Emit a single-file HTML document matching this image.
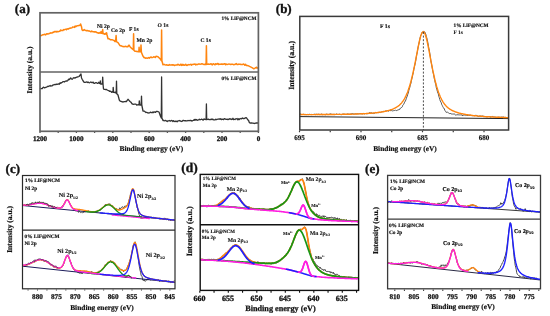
<!DOCTYPE html>
<html><head><meta charset="utf-8"><style>
html,body{margin:0;padding:0;background:#fff;width:550px;height:316px;overflow:hidden;}
body{position:relative;font-family:"Liberation Serif", serif;}
</style></head><body>
<svg width="550" height="316" viewBox="0 0 550 316" style="position:absolute;left:0;top:0;will-change:transform" text-rendering="geometricPrecision">
<g font-family='"Liberation Serif", serif' fill="#111">
<path d="M40.0,35.7 40.7,35.5 41.4,35.5 42.1,35.1 42.9,34.7 43.6,34.7 44.3,34.3 45.0,34.5 45.7,34.9 46.4,34.0 47.1,33.7 47.9,34.0 48.6,33.8 49.3,33.5 50.0,33.3 50.7,32.8 51.4,33.0 52.1,33.1 52.9,32.2 53.6,32.4 54.3,31.6 55.0,31.7 55.7,31.4 56.4,31.9 57.1,31.3 57.9,31.8 58.6,31.6 59.3,31.3 60.0,31.2 60.7,30.0 61.4,30.6 62.1,30.6 62.9,30.4 63.6,29.6 64.3,29.8 65.0,29.4 65.7,29.2 66.4,29.8 67.1,28.8 67.9,28.9 68.6,29.1 69.3,28.3 70.0,28.3 70.7,28.0 71.5,27.9 72.2,27.6 72.9,26.9 73.6,27.1 74.4,27.4 75.1,26.0 75.8,26.8 76.5,26.2 77.3,25.7 78.0,25.7 79.0,25.4 80.0,25.2 80.6,24.0 81.5,26.7 82.0,29.7 82.8,30.6 83.5,30.3 84.2,29.6 85.0,30.2 85.8,30.4 86.5,30.7 87.2,30.5 88.0,30.7 88.7,31.1 89.4,31.0 90.1,31.4 90.9,31.8 91.6,31.1 92.3,31.6 93.0,31.7 93.7,31.7 94.4,32.0 95.1,31.7 95.9,32.0 96.6,32.3 97.3,32.9 98.0,32.7 98.9,33.3 99.9,32.5 100.8,33.2 101.1,31.5 101.4,33.3 102.4,33.3 102.7,29.6 103.0,33.7 103.8,33.5 104.6,34.3 105.4,33.4 106.2,34.3 106.6,32.8 107.0,34.7 108.0,38.7 108.8,38.7 109.6,39.1 110.4,39.8 111.2,39.8 112.0,39.7 112.7,39.9 113.4,40.2 114.2,40.5 114.9,41.5 115.6,41.2 116.1,35.5 116.5,41.7 117.2,42.2 118.0,42.7 119.0,44.2 120.0,45.7 120.8,45.7 121.6,46.0 122.4,46.4 123.2,46.5 124.0,46.7 124.8,46.6 125.6,46.3 126.4,46.7 127.2,46.5 128.0,46.7 129.0,45.1 130.0,46.7 131.0,47.7 132.0,48.7 133.3,49.7 133.6,33.7 133.9,50.2 134.9,51.2 136.0,51.2 136.7,51.6 137.4,51.4 138.1,51.8 138.8,51.7 139.1,47.3 139.4,51.7 140.7,51.7 141.0,45.0 141.4,52.2 142.2,54.2 143.0,56.2 144.0,57.7 144.8,57.6 145.6,58.3 146.4,57.9 147.2,58.3 148.0,58.1 148.8,57.5 149.6,58.1 150.4,57.2 151.2,57.0 152.0,57.7 152.8,57.3 153.6,56.8 154.4,56.9 155.2,57.5 156.0,56.3 157.0,56.5 158.0,56.7 159.0,57.7 160.0,58.7 161.3,60.7 161.6,30.1 161.9,60.7 163.0,64.7 163.7,64.4 164.4,64.5 165.1,64.9 165.8,65.1 166.5,64.8 167.2,64.9 167.9,65.3 168.6,65.2 169.3,64.6 170.0,65.1 170.7,65.1 171.4,65.1 172.1,64.7 172.9,65.2 173.6,64.8 174.3,65.5 175.0,65.2 175.7,65.1 176.4,64.9 177.1,65.1 177.9,64.3 178.6,64.6 179.3,65.2 180.0,65.1 180.7,64.2 181.4,65.4 182.1,64.3 182.9,65.3 183.6,64.6 184.3,65.2 185.0,65.0 185.7,64.3 186.4,65.3 187.1,65.4 187.9,64.8 188.6,64.6 189.3,64.7 190.0,64.7 190.7,64.3 191.4,65.1 192.1,64.4 192.9,64.5 193.6,64.2 194.3,64.2 195.0,63.9 195.7,64.9 196.4,64.3 197.1,64.7 197.9,64.3 198.6,64.0 199.3,64.1 200.0,64.2 201.0,64.0 202.0,63.7 203.0,64.1 204.0,64.5 205.1,64.3 206.1,64.5 206.4,45.7 206.7,64.3 207.5,64.3 208.3,64.1 209.2,64.2 210.0,64.3 210.7,63.7 211.4,64.0 212.1,64.9 212.9,64.0 213.6,63.8 214.3,64.4 215.0,64.8 215.7,63.7 216.4,64.2 217.1,64.0 217.9,63.5 218.6,64.5 219.3,64.2 220.0,64.2 220.7,64.2 221.4,63.9 222.1,64.4 222.9,64.0 223.6,64.2 224.3,63.8 225.0,63.8 225.7,64.8 226.4,64.1 227.1,64.4 227.9,64.3 228.6,64.1 229.3,64.1 230.0,64.3 230.7,64.5 231.4,64.2 232.1,64.2 232.9,64.3 233.6,64.7 234.3,64.5 235.0,64.4 235.7,64.0 236.4,63.6 237.1,64.5 237.9,64.5 238.6,64.1 239.3,64.3 240.0,64.1 240.8,64.5 241.6,64.5 242.4,64.6 243.2,64.1 244.0,64.3 244.8,65.2 245.6,64.4 246.4,65.5 247.2,65.6 248.0,65.7 249.0,66.2 250.0,66.7 251.0,67.2 252.0,67.7 252.8,68.2 253.5,68.7 254.2,68.7 255.0,68.2 255.8,67.6 256.5,67.3 257.2,68.2 258.0,67.7" fill="none" stroke="#ff850f" stroke-width="1.5" stroke-linejoin="round" />
<path d="M40.0,89.0 40.7,88.4 41.4,88.6 42.2,88.7 42.9,87.5 43.6,87.2 44.3,87.9 45.0,87.6 45.8,87.3 46.5,87.2 47.2,86.7 47.9,86.2 48.6,86.5 49.4,86.0 50.1,85.5 50.8,86.2 51.5,85.8 52.2,85.8 53.0,85.0 53.7,84.9 54.4,84.6 55.1,84.4 55.8,84.7 56.6,84.1 57.3,84.3 58.0,84.0 58.7,83.9 59.4,84.3 60.1,82.7 60.8,83.3 61.5,82.7 62.2,82.4 62.9,81.6 63.6,81.7 64.3,82.0 65.0,81.4 65.7,81.2 66.4,80.8 67.1,81.1 67.9,80.4 68.6,79.2 69.3,79.6 70.0,78.8 70.7,78.0 71.4,78.9 72.1,79.3 72.8,78.6 73.5,77.8 74.2,77.7 74.9,78.2 75.6,77.6 76.3,77.3 77.0,77.0 78.0,76.8 79.0,76.5 79.8,75.5 80.6,74.5 81.0,74.0 81.5,78.0 82.2,79.3 83.0,80.6 83.7,81.9 84.5,82.3 85.3,82.3 86.1,82.2 86.8,81.8 87.6,82.5 88.4,82.1 89.2,82.9 90.0,82.5 90.8,82.0 91.6,82.5 92.4,82.6 93.2,82.1 94.0,83.3 94.8,83.3 95.6,82.7 96.4,82.7 97.2,83.3 97.9,83.3 98.7,82.3 99.5,83.5 100.0,83.0 100.3,81.0 100.6,84.0 101.4,84.0 102.3,84.0 102.7,77.1 103.1,85.0 103.5,89.0 104.2,89.3 105.0,89.4 105.8,89.7 106.5,89.4 107.2,90.0 108.0,90.3 108.7,90.5 109.4,91.3 110.1,91.2 110.9,91.4 111.6,92.3 112.3,91.7 113.0,92.2 113.2,87.4 113.6,92.4 114.5,92.5 115.3,92.2 116.2,93.2 116.5,81.1 116.8,93.7 118.0,95.0 119.3,100.0 120.2,101.2 121.1,101.5 122.0,101.6 122.7,102.0 123.5,101.9 124.2,101.6 124.9,101.7 125.7,101.5 126.4,101.6 127.2,100.4 128.0,99.3 129.0,100.4 130.0,101.5 130.7,102.0 131.4,102.8 132.1,104.0 132.8,104.0 133.6,104.3 134.4,104.2 135.1,104.1 135.9,104.1 136.7,105.1 137.4,104.8 138.2,104.7 139.0,104.8 139.3,100.9 139.8,105.0 141.2,105.0 141.5,96.1 141.8,105.0 143.0,111.0 143.7,111.1 144.4,111.1 145.1,111.8 145.9,112.5 146.6,112.3 147.3,112.6 148.0,113.0 148.8,112.8 149.6,112.9 150.4,112.1 151.2,112.6 152.0,112.6 152.7,112.1 153.4,112.6 154.1,111.8 154.9,112.1 155.6,112.4 156.3,111.4 157.0,111.4 158.0,111.7 159.0,112.0 159.7,114.0 160.4,116.0 161.3,118.0 161.6,77.0 161.9,118.0 163.0,120.6 163.7,120.4 164.4,120.8 165.1,120.7 165.8,120.4 166.5,121.0 167.2,121.6 167.9,120.8 168.6,120.8 169.3,120.5 170.0,121.0 170.7,121.1 171.4,120.5 172.1,120.6 172.9,121.5 173.6,120.6 174.3,121.4 175.0,121.6 175.7,121.1 176.4,121.2 177.1,121.8 177.9,120.9 178.6,120.8 179.3,120.5 180.0,121.0 180.7,121.0 181.4,121.5 182.1,121.3 182.9,120.5 183.6,120.5 184.3,120.6 185.0,120.9 185.7,120.6 186.4,120.8 187.1,120.8 187.9,120.5 188.6,120.6 189.3,120.6 190.0,120.5 190.7,120.4 191.4,120.6 192.1,121.1 192.9,120.5 193.6,120.3 194.3,119.5 195.0,120.3 195.7,119.3 196.4,119.5 197.1,120.3 197.9,120.2 198.6,119.8 199.3,119.2 200.0,119.8 200.8,119.5 201.6,119.2 202.4,119.6 203.2,120.1 204.0,119.0 205.1,119.3 206.1,119.5 206.4,104.0 206.7,119.6 207.5,119.3 208.3,119.1 209.2,119.6 210.0,119.6 210.7,119.5 211.4,119.1 212.1,119.6 212.9,119.1 213.6,119.9 214.3,119.9 215.0,119.9 215.7,119.2 216.4,119.6 217.1,119.3 217.9,119.2 218.6,119.2 219.3,118.8 220.0,119.3 220.7,118.7 221.4,119.6 222.1,119.2 222.9,119.4 223.6,119.7 224.3,118.6 225.0,118.9 225.7,119.3 226.4,119.4 227.1,119.1 227.9,119.6 228.6,119.3 229.3,118.7 230.0,119.2 230.7,118.8 231.4,119.5 232.1,119.3 232.9,118.3 233.6,119.6 234.3,119.3 235.0,119.5 235.7,118.8 236.4,118.8 237.1,118.5 237.9,119.9 238.6,118.8 239.3,119.5 240.0,118.8 240.8,118.5 241.6,118.8 242.4,118.0 243.2,118.5 244.0,118.6 245.0,118.1 246.0,117.6 247.0,118.5 247.8,120.0 248.5,120.2 249.2,122.3 250.0,123.0 250.8,123.2 251.6,122.8 252.4,123.1 253.2,123.2 254.0,123.5 254.8,123.4 255.6,123.1 256.4,122.9 257.2,123.0 258.0,123.0" fill="none" stroke="#333" stroke-width="1.3" stroke-linejoin="round" />
<rect x="40" y="12.8" width="218.39999999999998" height="118.50000000000001" fill="none" stroke="#636363" stroke-width="1.7"/>
<line x1="40" y1="72" x2="258.4" y2="72" stroke="#636363" stroke-width="1.7"/>
<path d="M40.00,132.10000000000002 v1.0 M58.20,132.10000000000002 v1.0 M76.40,132.10000000000002 v1.0 M94.60,132.10000000000002 v1.0 M112.80,132.10000000000002 v1.0 M131.00,132.10000000000002 v1.0 M149.20,132.10000000000002 v1.0 M167.40,132.10000000000002 v1.0 M185.60,132.10000000000002 v1.0 M203.80,132.10000000000002 v1.0 M222.00,132.10000000000002 v1.0 M240.20,132.10000000000002 v1.0 M258.40,132.10000000000002 v1.0" stroke="#5a5a5a" stroke-width="1.2800000000000002" fill="none"/>
<text x="14.8" y="12.7" font-size="13" text-anchor="start" font-weight="bold" stroke="#111" stroke-width="0.35" >(a)</text>
<text x="40.0" y="141.1" font-size="7.1" text-anchor="middle" font-weight="bold" stroke="#111" stroke-width="0.3" >1200</text>
<text x="76.4" y="141.1" font-size="7.1" text-anchor="middle" font-weight="bold" stroke="#111" stroke-width="0.3" >1000</text>
<text x="112.8" y="141.1" font-size="7.1" text-anchor="middle" font-weight="bold" stroke="#111" stroke-width="0.3" >800</text>
<text x="149.2" y="141.1" font-size="7.1" text-anchor="middle" font-weight="bold" stroke="#111" stroke-width="0.3" >600</text>
<text x="185.6" y="141.1" font-size="7.1" text-anchor="middle" font-weight="bold" stroke="#111" stroke-width="0.3" >400</text>
<text x="222.0" y="141.1" font-size="7.1" text-anchor="middle" font-weight="bold" stroke="#111" stroke-width="0.3" >200</text>
<text x="258.4" y="141.1" font-size="7.1" text-anchor="middle" font-weight="bold" stroke="#111" stroke-width="0.3" >0</text>
<text x="151.3" y="151.2" font-size="7.4" text-anchor="middle" font-weight="bold" stroke="#111" stroke-width="0.2" >Binding energy (eV)</text>
<text x="0" y="0" font-size="7.5" font-weight="bold" text-anchor="middle" stroke="#111" stroke-width="0.2" transform="translate(29.3,70) rotate(-90)" dominant-baseline="central">Intensity (a.u.)</text>
<text x="256.5" y="20.4" font-size="5.3" text-anchor="end" font-weight="bold" stroke="#111" stroke-width="0.18" >1% LiF@NCM</text>
<text x="256.5" y="80" font-size="5.3" text-anchor="end" font-weight="bold" stroke="#111" stroke-width="0.18" >0% LiF@NCM</text>
<text x="97" y="28" font-size="5.6" text-anchor="start" font-weight="bold" stroke="#111" stroke-width="0.15" >Ni 2p</text>
<text x="111" y="32" font-size="5.6" text-anchor="start" font-weight="bold" stroke="#111" stroke-width="0.15" >Co 2p</text>
<text x="129" y="31" font-size="5.6" text-anchor="start" font-weight="bold" stroke="#111" stroke-width="0.15" >F 1s</text>
<text x="136.6" y="42" font-size="5.6" text-anchor="start" font-weight="bold" stroke="#111" stroke-width="0.15" >Mn 2p</text>
<text x="157.6" y="27" font-size="5.6" text-anchor="start" font-weight="bold" stroke="#111" stroke-width="0.15" >O 1s</text>
<text x="200.4" y="42.4" font-size="5.6" text-anchor="start" font-weight="bold" stroke="#111" stroke-width="0.15" >C 1s</text>
<path d="M300.3,114.2 300.8,114.1 301.3,114.5 301.8,114.9 302.3,114.0 302.8,114.5 303.3,114.3 303.8,114.2 304.3,114.8 304.8,114.4 305.3,115.1 305.8,114.3 306.3,114.7 306.8,114.5 307.3,114.3 307.8,114.8 308.3,114.5 308.8,114.8 309.3,114.5 309.8,114.2 310.3,114.5 310.8,114.6 311.3,114.9 311.8,114.2 312.3,114.5 312.8,114.0 313.3,114.8 313.8,114.2 314.3,113.9 314.8,114.5 315.3,114.9 315.8,114.0 316.3,114.2 316.8,114.3 317.3,114.2 317.8,114.7 318.3,114.3 318.8,114.3 319.3,114.7 319.8,114.3 320.3,114.7 320.8,114.2 321.3,114.1 321.8,113.9 322.3,115.2 322.8,114.4 323.3,114.6 323.8,114.5 324.3,114.6 324.8,114.5 325.3,115.2 325.8,114.2 326.3,114.0 326.8,114.2 327.3,114.0 327.8,114.8 328.3,114.8 328.8,114.2 329.3,114.0 329.8,114.4 330.3,115.0 330.8,113.5 331.3,114.7 331.8,114.1 332.3,114.8 332.8,114.1 333.3,114.4 333.8,113.9 334.3,114.1 334.8,114.9 335.3,114.7 335.8,114.3 336.3,114.1 336.8,113.8 337.3,114.3 337.8,114.4 338.3,114.4 338.8,114.4 339.3,114.0 339.8,114.4 340.3,114.4 340.8,114.8 341.3,115.0 341.8,114.3 342.3,114.1 342.8,114.3 343.3,114.1 343.8,114.1 344.3,114.3 344.8,113.9 345.3,114.5 345.8,114.3 346.3,114.4 346.8,114.2 347.3,114.0 347.8,113.9 348.3,114.2 348.8,114.0 349.3,114.3 349.8,114.2 350.3,113.7 350.8,114.2 351.3,113.7 351.8,113.9 352.3,114.0 352.8,113.4 353.3,114.1 353.8,114.1 354.3,114.0 354.8,113.9 355.3,113.9 355.8,113.7 356.3,113.9 356.8,113.8 357.3,114.0 357.8,113.5 358.3,114.0 358.8,114.0 359.3,113.8 359.8,113.7 360.3,114.0 360.8,113.2 361.3,114.0 361.8,113.9 362.3,113.9 362.8,113.9 363.3,113.5 363.8,113.6 364.3,113.9 364.8,113.8 365.3,113.7 365.8,113.0 366.3,113.7 366.8,113.9 367.3,113.8 367.8,113.5 368.3,112.9 368.8,113.7 369.3,113.3 369.8,112.4 370.3,113.4 370.8,112.7 371.3,112.7 371.8,112.9 372.3,113.5 372.8,112.9 373.3,113.1 373.8,113.6 374.3,113.5 374.8,112.8 375.3,112.7 375.8,112.3 376.3,112.5 376.8,112.8 377.3,112.7 377.8,112.6 378.3,112.8 378.8,112.1 379.3,112.3 379.8,112.5 380.3,112.4 380.8,112.5 381.3,112.2 381.8,111.9 382.3,112.0 382.8,111.5 383.3,111.1 383.8,111.8 384.3,111.5 384.8,111.6 385.3,110.8 385.8,111.2 386.3,111.0 386.8,110.8 387.3,110.3 387.8,110.9 388.3,111.2 388.8,111.0 389.3,110.6 389.8,110.7 390.3,110.9 390.8,109.6 391.3,110.5 391.8,110.7 392.3,110.7 392.8,111.1 393.3,110.8 393.8,110.5 394.3,110.5 394.8,110.6 395.3,110.1 395.8,110.3 396.3,110.5 396.8,110.8 397.3,110.0 397.8,109.9 398.3,109.8 398.8,110.0 399.3,109.2 399.8,109.4 400.3,108.2 400.8,108.1 401.3,107.6 401.8,107.4 402.3,106.8 402.8,105.2 403.3,104.6 403.8,104.2 404.3,102.9 404.8,101.6 405.3,101.4 405.8,100.0 406.3,98.7 406.8,97.0 407.3,96.1 407.8,94.1 408.3,93.0 408.8,90.6 409.3,88.9 409.8,87.4 410.3,85.2 410.8,83.7 411.3,81.4 411.8,78.9 412.3,77.0 412.8,74.6 413.3,72.6 413.8,69.6 414.3,67.2 414.8,65.2 415.3,63.0 415.8,60.3 416.3,57.0 416.8,54.4 417.3,52.2 417.8,49.0 418.3,46.2 418.8,44.1 419.3,41.9 419.8,39.3 420.3,37.0 420.8,35.4 421.3,34.6 421.8,32.9 422.3,32.2 422.8,31.7 423.3,31.5 423.8,31.2 424.3,31.8 424.8,32.0 425.3,33.1 425.8,34.1 426.3,36.5 426.8,37.9 427.3,39.8 427.8,42.3 428.3,45.0 428.8,48.1 429.3,50.1 429.8,53.3 430.3,56.5 430.8,60.5 431.3,62.9 431.8,65.3 432.3,68.4 432.8,71.5 433.3,73.3 433.8,75.7 434.3,78.7 434.8,80.8 435.3,83.0 435.8,84.8 436.3,87.7 436.8,89.6 437.3,91.1 437.8,93.0 438.3,93.8 438.8,96.4 439.3,97.7 439.8,99.5 440.3,101.0 440.8,102.0 441.3,102.8 441.8,104.8 442.3,105.5 442.8,106.7 443.3,107.5 443.8,108.5 444.3,108.6 444.8,110.5 445.3,110.8 445.8,111.7 446.3,112.5 446.8,112.2 447.3,111.9 447.8,112.5 448.3,112.7 448.8,113.2 449.3,113.5 449.8,113.0 450.3,113.9 450.8,113.4 451.3,114.1 451.8,114.0 452.3,114.0 452.8,114.1 453.3,114.0 453.8,114.1 454.3,113.7 454.8,114.4 455.3,115.1 455.8,115.2 456.3,115.0 456.8,114.9 457.3,114.4 457.8,115.2 458.3,114.8 458.8,114.8 459.3,114.8 459.8,115.0 460.3,114.8 460.8,115.0 461.3,114.7 461.8,114.9 462.3,115.9 462.8,115.1 463.3,115.0 463.8,115.3 464.3,115.4 464.8,114.8 465.3,115.1 465.8,115.5 466.3,115.3 466.8,115.2 467.3,115.8 467.8,115.0 468.3,115.3 468.8,115.1 469.3,115.8 469.8,114.7 470.3,115.1 470.8,115.2 471.3,115.7 471.8,115.7 472.3,116.0 472.8,115.0 473.3,115.9 473.8,115.6 474.3,115.5 474.8,115.9 475.3,115.5 475.8,115.1 476.3,115.8 476.8,115.4 477.3,115.8 477.8,116.2 478.3,116.2 478.8,116.7 479.3,116.1 479.8,115.7 480.3,116.0 480.8,116.0 481.3,115.9 481.8,116.5 482.3,116.2 482.8,115.7 483.3,116.7 483.8,116.5 484.3,116.7 484.8,116.6 485.3,116.8 485.8,116.6 486.3,117.1 486.8,116.8 487.3,116.9 487.8,116.9 488.3,116.3 488.8,116.8 489.3,116.7 489.8,116.9 490.3,116.4 490.8,117.5 491.3,117.0 491.8,116.5 492.3,116.4 492.8,116.9 493.3,117.0 493.8,116.8 494.3,117.1 494.8,116.9 495.3,117.3 495.8,116.9 496.3,117.2 496.8,117.6 497.3,118.1 497.8,116.9 498.3,117.1 498.8,117.0 499.3,117.6 499.8,116.9 500.3,117.2 500.8,117.4 501.3,117.1 501.8,117.1 502.3,117.3 502.8,116.7 503.3,117.0 503.8,117.3 504.3,117.6 504.8,117.5 505.3,116.9 505.8,117.4 506.3,117.9 506.8,117.8 507.3,117.6 507.8,117.3" fill="none" stroke="#333" stroke-width="0.8" stroke-linejoin="round" stroke-linecap="round" />
<line x1="299.8" y1="116.60" x2="508.6" y2="118.60" stroke="#222" stroke-width="1"/>
<path d="M300.3,114.5 300.8,114.5 301.3,114.5 301.8,114.5 302.3,114.5 302.8,114.5 303.3,114.5 303.8,114.5 304.3,114.5 304.8,114.6 305.3,114.6 305.8,114.6 306.3,114.6 306.8,114.6 307.3,114.6 307.8,114.6 308.3,114.6 308.8,114.6 309.3,114.6 309.8,114.6 310.3,114.6 310.8,114.6 311.3,114.6 311.8,114.6 312.3,114.6 312.8,114.6 313.3,114.6 313.8,114.6 314.3,114.6 314.8,114.6 315.3,114.6 315.8,114.5 316.3,114.5 316.8,114.5 317.3,114.5 317.8,114.5 318.3,114.5 318.8,114.5 319.3,114.5 319.8,114.5 320.3,114.5 320.8,114.5 321.3,114.5 321.8,114.5 322.3,114.5 322.8,114.5 323.3,114.5 323.8,114.5 324.3,114.5 324.8,114.5 325.3,114.5 325.8,114.5 326.3,114.5 326.8,114.5 327.3,114.5 327.8,114.5 328.3,114.5 328.8,114.5 329.3,114.5 329.8,114.5 330.3,114.5 330.8,114.5 331.3,114.5 331.8,114.5 332.3,114.5 332.8,114.5 333.3,114.5 333.8,114.5 334.3,114.5 334.8,114.4 335.3,114.4 335.8,114.4 336.3,114.4 336.8,114.4 337.3,114.4 337.8,114.4 338.3,114.4 338.8,114.4 339.3,114.4 339.8,114.4 340.3,114.4 340.8,114.4 341.3,114.4 341.8,114.4 342.3,114.4 342.8,114.3 343.3,114.3 343.8,114.3 344.3,114.3 344.8,114.3 345.3,114.3 345.8,114.3 346.3,114.3 346.8,114.3 347.3,114.3 347.8,114.2 348.3,114.2 348.8,114.2 349.3,114.2 349.8,114.2 350.3,114.2 350.8,114.2 351.3,114.2 351.8,114.1 352.3,114.1 352.8,114.1 353.3,114.1 353.8,114.1 354.3,114.1 354.8,114.1 355.3,114.0 355.8,114.0 356.3,114.0 356.8,114.0 357.3,114.0 357.8,114.0 358.3,113.9 358.8,113.9 359.3,113.9 359.8,113.9 360.3,113.9 360.8,113.8 361.3,113.8 361.8,113.8 362.3,113.8 362.8,113.7 363.3,113.7 363.8,113.7 364.3,113.7 364.8,113.6 365.3,113.6 365.8,113.6 366.3,113.5 366.8,113.5 367.3,113.5 367.8,113.4 368.3,113.4 368.8,113.4 369.3,113.3 369.8,113.3 370.3,113.3 370.8,113.2 371.3,113.2 371.8,113.1 372.3,113.1 372.8,113.1 373.3,113.0 373.8,113.0 374.3,112.9 374.8,112.9 375.3,112.8 375.8,112.8 376.3,112.7 376.8,112.6 377.3,112.6 377.8,112.5 378.3,112.5 378.8,112.4 379.3,112.3 379.8,112.3 380.3,112.2 380.8,112.1 381.3,112.0 381.8,111.9 382.3,111.9 382.8,111.8 383.3,111.7 383.8,111.6 384.3,111.5 384.8,111.4 385.3,111.3 385.8,111.2 386.3,111.1 386.8,111.0 387.3,110.8 387.8,110.7 388.3,110.6 388.8,110.4 389.3,110.3 389.8,110.1 390.3,110.0 390.8,109.8 391.3,109.6 391.8,109.5 392.3,109.3 392.8,109.1 393.3,108.9 393.8,108.7 394.3,108.4 394.8,108.2 395.3,107.9 395.8,107.6 396.3,107.3 396.8,107.0 397.3,106.7 397.8,106.4 398.3,106.0 398.8,105.6 399.3,105.2 399.8,104.7 400.3,104.2 400.8,103.7 401.3,103.2 401.8,102.6 402.3,101.9 402.8,101.3 403.3,100.6 403.8,99.8 404.3,99.0 404.8,98.1 405.3,97.1 405.8,96.1 406.3,95.0 406.8,93.9 407.3,92.7 407.8,91.4 408.3,90.0 408.8,88.6 409.3,87.0 409.8,85.4 410.3,83.7 410.8,81.9 411.3,80.0 411.8,78.0 412.3,75.9 412.8,73.8 413.3,71.5 413.8,69.2 414.3,66.8 414.8,64.4 415.3,61.8 415.8,59.3 416.3,56.7 416.8,54.1 417.3,51.5 417.8,48.9 418.3,46.4 418.8,44.0 419.3,41.7 419.8,39.5 420.3,37.6 420.8,35.9 421.3,34.4 421.8,33.3 422.3,32.4 422.8,31.9 423.3,31.8 423.8,32.0 424.3,32.6 424.8,33.5 425.3,34.7 425.8,36.2 426.3,38.0 426.8,40.0 427.3,42.2 427.8,44.6 428.3,47.0 428.8,49.6 429.3,52.2 429.8,54.9 430.3,57.5 430.8,60.2 431.3,62.8 431.8,65.4 432.3,67.9 432.8,70.3 433.3,72.7 433.8,75.0 434.3,77.2 434.8,79.3 435.3,81.3 435.8,83.3 436.3,85.1 436.8,86.9 437.3,88.5 437.8,90.1 438.3,91.6 438.8,93.0 439.3,94.3 439.8,95.5 440.3,96.7 440.8,97.8 441.3,98.8 441.8,99.8 442.3,100.7 442.8,101.6 443.3,102.4 443.8,103.1 444.3,103.8 444.8,104.5 445.3,105.1 445.8,105.6 446.3,106.2 446.8,106.7 447.3,107.1 447.8,107.6 448.3,108.0 448.8,108.4 449.3,108.7 449.8,109.1 450.3,109.4 450.8,109.7 451.3,110.0 451.8,110.3 452.3,110.5 452.8,110.8 453.3,111.0 453.8,111.2 454.3,111.4 454.8,111.6 455.3,111.8 455.8,112.0 456.3,112.2 456.8,112.4 457.3,112.5 457.8,112.7 458.3,112.8 458.8,113.0 459.3,113.1 459.8,113.2 460.3,113.4 460.8,113.5 461.3,113.6 461.8,113.7 462.3,113.8 462.8,113.9 463.3,114.0 463.8,114.1 464.3,114.2 464.8,114.3 465.3,114.4 465.8,114.5 466.3,114.6 466.8,114.7 467.3,114.8 467.8,114.8 468.3,114.9 468.8,115.0 469.3,115.1 469.8,115.1 470.3,115.2 470.8,115.3 471.3,115.3 471.8,115.4 472.3,115.4 472.8,115.5 473.3,115.6 473.8,115.6 474.3,115.7 474.8,115.7 475.3,115.8 475.8,115.8 476.3,115.9 476.8,115.9 477.3,116.0 477.8,116.0 478.3,116.1 478.8,116.1 479.3,116.1 479.8,116.2 480.3,116.2 480.8,116.3 481.3,116.3 481.8,116.3 482.3,116.4 482.8,116.4 483.3,116.5 483.8,116.5 484.3,116.5 484.8,116.6 485.3,116.6 485.8,116.6 486.3,116.7 486.8,116.7 487.3,116.7 487.8,116.8 488.3,116.8 488.8,116.8 489.3,116.8 489.8,116.9 490.3,116.9 490.8,116.9 491.3,116.9 491.8,117.0 492.3,117.0 492.8,117.0 493.3,117.0 493.8,117.1 494.3,117.1 494.8,117.1 495.3,117.1 495.8,117.2 496.3,117.2 496.8,117.2 497.3,117.2 497.8,117.3 498.3,117.3 498.8,117.3 499.3,117.3 499.8,117.3 500.3,117.4 500.8,117.4 501.3,117.4 501.8,117.4 502.3,117.4 502.8,117.4 503.3,117.5 503.8,117.5 504.3,117.5 504.8,117.5 505.3,117.5 505.8,117.6 506.3,117.6 506.8,117.6 507.3,117.6 507.8,117.6" fill="none" stroke="#ff850f" stroke-width="1.4" stroke-linejoin="round" stroke-linecap="round" />
<line x1="423.4" y1="32" x2="423.4" y2="130.0" stroke="#222" stroke-width="0.8" stroke-dasharray="2,1.6"/>
<rect x="299.8" y="16.4" width="208.8" height="113.6" fill="none" stroke="#3a3a3a" stroke-width="1.5"/>
<path d="M299.50,130.7 v1.6 M330.25,130.7 v1.6 M361.00,130.7 v1.6 M391.75,130.7 v1.6 M422.50,130.7 v1.6 M453.25,130.7 v1.6 M484.00,130.7 v1.6" stroke="#3a3a3a" stroke-width="1.2000000000000002" fill="none"/>
<text x="275.8" y="13.2" font-size="13" text-anchor="start" font-weight="bold" stroke="#111" stroke-width="0.35" >(b)</text>
<text x="299.5" y="139.8" font-size="7.1" text-anchor="middle" font-weight="bold" stroke="#111" stroke-width="0.15" >695</text>
<text x="361.0" y="139.8" font-size="7.1" text-anchor="middle" font-weight="bold" stroke="#111" stroke-width="0.15" >690</text>
<text x="422.5" y="139.8" font-size="7.1" text-anchor="middle" font-weight="bold" stroke="#111" stroke-width="0.15" >685</text>
<text x="484.0" y="139.8" font-size="7.1" text-anchor="middle" font-weight="bold" stroke="#111" stroke-width="0.15" >680</text>
<text x="405" y="151.2" font-size="7.4" text-anchor="middle" font-weight="bold" stroke="#111" stroke-width="0.2" >Binding energy (eV)</text>
<text x="0" y="0" font-size="7.8" font-weight="bold" text-anchor="middle" stroke="#111" stroke-width="0.2" transform="translate(291,65.4) rotate(-90)" dominant-baseline="central">Intensity (a.u.)</text>
<text x="380" y="28.3" font-size="5.8" text-anchor="start" font-weight="bold" stroke="#111" stroke-width="0.15" >F 1s</text>
<text x="453.5" y="26.6" font-size="5.3" text-anchor="start" font-weight="bold" stroke="#111" stroke-width="0.18" >1% LiF@NCM</text>
<text x="453.5" y="33.8" font-size="5.4" text-anchor="start" font-weight="bold" stroke="#111" stroke-width="0.12" >F 1s</text>
<path d="M23.1,205.5 23.6,204.9 24.1,204.6 24.6,204.7 25.1,205.8 25.6,205.2 26.1,205.6 26.6,204.7 27.1,205.4 27.6,204.5 28.1,204.7 28.6,205.9 29.1,204.9 29.6,204.2 30.1,204.3 30.6,204.3 31.1,204.7 31.6,203.7 32.1,202.9 32.6,203.5 33.1,203.5 33.6,203.4 34.1,203.9 34.6,203.3 35.1,203.4 35.6,202.3 36.1,203.2 36.6,203.7 37.1,203.0 37.6,202.7 38.1,202.6 38.6,203.4 39.1,202.0 39.6,202.4 40.1,202.7 40.6,202.9 41.1,202.4 41.6,202.9 42.1,202.7 42.6,203.0 43.1,203.0 43.6,202.7 44.1,203.4 44.6,204.0 45.1,203.3 45.6,203.8 46.1,204.5 46.6,203.8 47.1,204.7 47.6,204.3 48.1,205.6 48.6,206.4 49.1,206.4 49.6,205.5 50.1,206.2 50.6,206.1 51.1,206.3 51.6,207.2 52.1,206.0 52.6,207.3 53.1,206.9 53.6,207.8 54.1,207.3 54.6,207.0 55.1,207.6 55.6,208.0 56.1,207.7 56.6,208.1 57.1,207.6 57.6,206.9 58.1,208.5 58.6,208.4 59.1,208.1 59.6,208.1 60.1,208.5 60.6,207.6 61.1,207.3 61.6,207.2 62.1,207.5 62.6,205.7 63.1,206.3 63.6,204.6 64.1,203.5 64.6,203.8 65.1,202.1 65.6,200.6 66.1,200.2 66.6,200.3 67.1,200.2 67.6,199.6 68.1,200.5 68.6,201.4 69.1,201.7 69.6,203.2 70.1,204.1 70.6,204.8 71.1,205.7 71.6,206.7 72.1,207.4 72.6,207.6 73.1,208.2 73.6,209.3 74.1,209.2 74.6,209.8 75.1,210.2 75.6,210.2 76.1,211.3 76.6,210.0 77.1,211.0 77.6,210.8 78.1,212.1 78.6,212.3 79.1,210.7 79.6,211.4 80.1,212.4 80.6,212.6 81.1,212.7 81.6,212.3 82.1,212.6 82.6,212.6 83.1,212.2 83.6,212.7 84.1,210.9 84.6,212.2 85.1,211.3 85.6,212.2 86.1,211.5 86.6,211.1 87.1,211.7 87.6,211.0 88.1,211.0 88.6,210.7 89.1,211.5 89.6,211.8 90.1,212.1 90.6,211.5 91.1,212.2 91.6,211.7 92.1,211.7 92.6,212.0 93.1,212.3 93.6,211.6 94.1,211.6 94.6,211.6 95.1,211.6 95.6,211.1 96.1,211.9 96.6,211.1 97.1,211.3 97.6,210.5 98.1,210.9 98.6,210.7 99.1,210.0 99.6,210.9 100.1,209.8 100.6,210.1 101.1,209.3 101.6,208.1 102.1,207.9 102.6,207.9 103.1,207.3 103.6,206.9 104.1,206.3 104.6,205.2 105.1,205.6 105.6,204.3 106.1,205.3 106.6,204.5 107.1,204.3 107.6,204.5 108.1,204.6 108.6,203.8 109.1,203.7 109.6,204.1 110.1,203.8 110.6,204.6 111.1,206.1 111.6,205.1 112.1,206.3 112.6,205.7 113.1,207.0 113.6,207.1 114.1,207.6 114.6,208.3 115.1,209.2 115.6,208.8 116.1,209.0 116.6,208.6 117.1,209.5 117.6,209.2 118.1,209.7 118.6,209.2 119.1,209.9 119.6,207.8 120.1,208.4 120.6,208.7 121.1,207.8 121.6,207.3 122.1,207.4 122.6,206.6 123.1,207.2 123.6,208.2 124.1,207.4 124.6,206.2 125.1,206.1 125.6,206.2 126.1,206.6 126.6,205.3 127.1,204.8 127.6,204.8 128.1,203.8 128.6,201.9 129.1,200.0 129.6,198.0 130.1,196.4 130.6,193.5 131.1,193.0 131.6,190.5 132.1,189.6 132.6,189.7 133.1,189.5 133.6,189.4 134.1,192.2 134.6,194.6 135.1,196.3 135.6,198.9 136.1,202.1 136.6,203.9 137.1,207.9 137.6,208.2 138.1,210.8 138.6,213.0 139.1,214.5 139.6,216.0 140.1,217.0 140.6,217.5 141.1,218.6 141.6,217.3 142.1,218.4 142.6,218.0 143.1,218.2 143.6,218.0 144.1,217.2 144.6,217.1 145.1,217.6 145.6,217.2 146.1,216.6 146.6,217.9 147.1,218.1 147.6,216.2 148.1,217.1 148.6,218.3 149.1,217.5 149.6,217.3 150.1,217.2 150.6,217.1 151.1,217.3 151.6,217.2 152.1,217.9 152.6,217.4 153.1,217.5 153.6,217.2 154.1,217.8 154.6,217.4 155.1,217.9 155.6,218.5 156.1,218.3 156.6,218.4 157.1,218.4 157.6,218.3 158.1,218.3 158.6,218.2 159.1,218.8 159.6,217.9 160.1,219.2 160.6,218.6 161.1,218.3 161.6,218.5 162.1,218.4 162.6,218.9 163.1,218.5 163.6,219.5 164.1,218.6 164.6,217.9 165.1,218.7 165.6,218.1 166.1,219.2 166.6,219.8 167.1,219.6 167.6,218.7 168.1,219.0 168.6,220.3 169.1,219.7 169.6,219.6 170.1,220.1 170.6,220.9 171.1,220.4 171.6,219.8 172.1,220.0 172.6,220.2 173.1,219.6 173.6,219.4 174.1,220.0" fill="none" stroke="#3a3a3a" stroke-width="0.9" stroke-linejoin="round" stroke-linecap="round" />
<line x1="22.5" y1="205.50" x2="175" y2="220.20" stroke="#1b1b5a" stroke-width="1"/>
<path d="M23.1,205.2 23.6,205.2 24.1,205.2 24.6,205.2 25.1,205.2 25.6,205.1 26.1,205.1 26.6,205.1 27.1,205.0 27.6,205.0 28.1,204.9 28.6,204.9 29.1,204.8 29.6,204.7 30.1,204.6 30.6,204.6 31.1,204.5 31.6,204.4 32.1,204.3 32.6,204.2 33.1,204.1 33.6,204.0 34.1,203.9 34.6,203.8 35.1,203.7 35.6,203.6 36.1,203.5 36.6,203.4 37.1,203.4 37.6,203.3 38.1,203.3 38.6,203.3 39.1,203.2 39.6,203.2 40.1,203.2 40.6,203.3 41.1,203.3 41.6,203.4 42.1,203.4 42.6,203.5 43.1,203.6 43.6,203.7 44.1,203.9 44.6,204.0 45.1,204.2 45.6,204.3 46.1,204.5 46.6,204.7 47.1,204.8 47.6,205.0 48.1,205.2 48.6,205.4 49.1,205.6 49.6,205.8 50.1,206.0 50.6,206.1 51.1,206.3 51.6,206.5 52.1,206.7 52.6,206.8 53.1,207.0 53.6,207.1 54.1,207.3 54.6,207.4 55.1,207.5 55.6,207.6 56.1,207.7 56.6,207.8 57.1,207.9 57.6,208.0 58.1,208.0 58.6,208.1 59.1,208.1 59.6,208.0 60.1,208.0 60.6,207.8 61.1,207.6 61.6,207.3 62.1,206.9 62.6,206.4 63.1,205.7 63.6,205.0 64.1,204.1 64.6,203.1 65.1,202.2 65.6,201.2 66.1,200.4 66.6,199.9 67.1,199.6 67.6,199.8 68.1,200.3 68.6,201.0 69.1,202.0 69.6,203.0 70.1,204.1 70.6,205.0 71.1,205.9 71.6,206.6 72.1,207.3 72.6,207.8 73.1,208.2 73.6,208.5 74.1,208.7 74.6,208.9 75.1,209.0 75.6,209.1 76.1,209.1 76.6,209.2 77.1,209.2 77.6,209.3 78.1,209.3 78.6,209.4 79.1,209.4 79.6,209.5 80.1,209.6 80.6,209.6 81.1,209.7 81.6,209.8 82.1,209.9 82.6,210.0 83.1,210.1 83.6,210.2 84.1,210.3 84.6,210.4 85.1,210.5 85.6,210.6 86.1,210.7 86.6,210.8 87.1,210.9 87.6,211.0 88.1,211.1 88.6,211.2 89.1,211.3 89.6,211.4 90.1,211.5 90.6,211.6 91.1,211.6 91.6,211.7 92.1,211.7 92.6,211.7 93.1,211.7 93.6,211.7 94.1,211.7 94.6,211.7 95.1,211.6 95.6,211.5 96.1,211.4 96.6,211.3 97.1,211.1 97.6,210.9 98.1,210.7 98.6,210.5 99.1,210.2 99.6,209.9 100.1,209.6 100.6,209.2 101.1,208.8 101.6,208.5 102.1,208.1 102.6,207.6 103.1,207.2 103.6,206.8 104.1,206.4 104.6,206.1 105.1,205.7 105.6,205.4 106.1,205.1 106.6,204.9 107.1,204.7 107.6,204.6 108.1,204.5 108.6,204.5 109.1,204.6 109.6,204.7 110.1,204.8 110.6,205.1 111.1,205.4 111.6,205.7 112.1,206.0 112.6,206.4 113.1,206.8 113.6,207.2 114.1,207.7 114.6,208.1 115.1,208.5 115.6,208.8 116.1,209.2 116.6,209.4 117.1,209.7 117.6,209.9 118.1,210.0 118.6,210.0 119.1,210.0 119.6,210.0 120.1,209.9 120.6,209.7 121.1,209.5 121.6,209.3 122.1,209.1 122.6,208.8 123.1,208.6 123.6,208.3 124.1,208.1 124.6,207.8 125.1,207.5 125.6,207.2 126.1,206.8 126.6,206.2 127.1,205.5 127.6,204.7 128.1,203.6 128.6,202.2 129.1,200.6 129.6,198.8 130.1,196.8 130.6,194.7 131.1,192.6 131.6,190.8 132.1,189.4 132.6,188.7 133.1,188.9 133.6,189.9 134.1,191.6 134.6,193.9 135.1,196.5 135.6,199.1 136.1,201.6 136.6,204.0 137.1,206.1 137.6,208.0 138.1,209.6 138.6,210.9 139.1,212.0 139.6,212.9 140.1,213.6 140.6,214.1 141.1,214.6 141.6,214.9 142.1,215.2 142.6,215.5 143.1,215.7 143.6,215.9 144.1,216.0 144.6,216.2 145.1,216.3 145.6,216.4 146.1,216.5 146.6,216.6 147.1,216.7 147.6,216.8 148.1,216.9 148.6,217.0 149.1,217.1 149.6,217.2 150.1,217.3 150.6,217.3 151.1,217.4 151.6,217.5 152.1,217.6 152.6,217.6 153.1,217.7 153.6,217.8 154.1,217.8 154.6,217.9 155.1,218.0 155.6,218.0 156.1,218.1 156.6,218.1 157.1,218.2 157.6,218.3 158.1,218.3 158.6,218.4 159.1,218.4 159.6,218.5 160.1,218.5 160.6,218.6 161.1,218.7 161.6,218.7 162.1,218.8 162.6,218.8 163.1,218.9 163.6,218.9 164.1,219.0 164.6,219.0 165.1,219.1 165.6,219.1 166.1,219.2 166.6,219.2 167.1,219.3 167.6,219.3 168.1,219.4 168.6,219.5 169.1,219.5 169.6,219.6 170.1,219.6 170.6,219.7 171.1,219.7 171.6,219.8 172.1,219.8 172.6,219.9 173.1,219.9 173.6,220.0 174.1,220.0" fill="none" stroke="#ff850f" stroke-width="1.3" stroke-linejoin="round" stroke-linecap="round" />
<path d="M86.1,211.6 86.6,211.7 87.1,211.7 87.6,211.8 88.1,211.8 88.6,211.8 89.1,211.9 89.6,211.9 90.1,211.9 90.6,212.0 91.1,212.0 91.6,212.0 92.1,212.0 92.6,212.0 93.1,212.0 93.6,212.0 94.1,211.9 94.6,211.9 95.1,211.8 95.6,211.7 96.1,211.6 96.6,211.5 97.1,211.3 97.6,211.1 98.1,210.9 98.6,210.7 99.1,210.4 99.6,210.1 100.1,209.8 100.6,209.4 101.1,209.0 101.6,208.7 102.1,208.3 102.6,207.9 103.1,207.4 103.6,207.0 104.1,206.7 104.6,206.3 105.1,205.9 105.6,205.6 106.1,205.4 106.6,205.1 107.1,205.0 107.6,204.9 108.1,204.8 108.6,204.8 109.1,204.9 109.6,205.0 110.1,205.2 110.6,205.4 111.1,205.7 111.6,206.1 112.1,206.5 112.6,206.9 113.1,207.4 113.6,207.8 114.1,208.3 114.6,208.8 115.1,209.3 115.6,209.8 116.1,210.3 116.6,210.8 117.1,211.2 117.6,211.7 118.1,212.1 118.6,212.5 119.1,212.8 119.6,213.1 120.1,213.4 120.6,213.7 121.1,213.9 121.6,214.2 122.1,214.4 122.6,214.5 123.1,214.7 123.6,214.8" fill="none" stroke="#169616" stroke-width="1.3" stroke-linejoin="round" stroke-linecap="round" />
<path d="M23.1,205.2 23.6,205.2 24.1,205.2 24.6,205.2 25.1,205.2 25.6,205.2 26.1,205.1 26.6,205.1 27.1,205.1 27.6,205.0 28.1,204.9 28.6,204.9 29.1,204.8 29.6,204.7 30.1,204.7 30.6,204.6 31.1,204.5 31.6,204.4 32.1,204.3 32.6,204.2 33.1,204.1 33.6,204.0 34.1,203.9 34.6,203.8 35.1,203.7 35.6,203.6 36.1,203.5 36.6,203.5 37.1,203.4 37.6,203.3 38.1,203.3 38.6,203.3 39.1,203.3 39.6,203.3 40.1,203.3 40.6,203.3 41.1,203.3 41.6,203.4 42.1,203.5 42.6,203.5 43.1,203.6 43.6,203.8 44.1,203.9 44.6,204.0 45.1,204.2 45.6,204.3 46.1,204.5 46.6,204.7 47.1,204.9 47.6,205.0 48.1,205.2 48.6,205.4 49.1,205.6 49.6,205.8 50.1,206.0 50.6,206.2 51.1,206.3 51.6,206.5 52.1,206.7 52.6,206.8 53.1,207.0 53.6,207.2 54.1,207.3 54.6,207.4 55.1,207.5 55.6,207.7 56.1,207.8 56.6,207.9 57.1,207.9 57.6,208.0 58.1,208.1 58.6,208.1 59.1,208.1 59.6,208.1 60.1,208.0 60.6,207.9 61.1,207.6 61.6,207.4 62.1,207.0 62.6,206.4 63.1,205.8 63.6,205.0 64.1,204.2 64.6,203.2 65.1,202.3 65.6,201.3 66.1,200.5 66.6,200.0 67.1,199.8 67.6,200.0 68.1,200.5 68.6,201.3 69.1,202.3 69.6,203.3 70.1,204.4 70.6,205.4 71.1,206.3 71.6,207.1 72.1,207.8 72.6,208.4 73.1,208.8 73.6,209.2 74.1,209.5 74.6,209.7 75.1,209.9 75.6,210.0 76.1,210.2 76.6,210.3 77.1,210.4 77.6,210.5" fill="none" stroke="#ff1fe0" stroke-width="1.3" stroke-linejoin="round" stroke-linecap="round" />
<path d="M112.1,215.0 112.6,215.1 113.1,215.1 113.6,215.2 114.1,215.2 114.6,215.3 115.1,215.3 115.6,215.4 116.1,215.4 116.6,215.5 117.1,215.5 117.6,215.6 118.1,215.6 118.6,215.7 119.1,215.7 119.6,215.8 120.1,215.8 120.6,215.9 121.1,215.9 121.6,216.0 122.1,216.0 122.6,216.0 123.1,216.1 123.6,216.1 124.1,216.2 124.6,216.2 125.1,216.3 125.6,216.3 126.1,216.4 126.6,216.4 127.1,216.5 127.6,216.5 128.1,216.6 128.6,216.6 129.1,216.7 129.6,216.7 130.1,216.8 130.6,216.8 131.1,216.9 131.6,216.9 132.1,217.0 132.6,217.0 133.1,217.1 133.6,217.1 134.1,217.2 134.6,217.2 135.1,217.3 135.6,217.3 136.1,217.4 136.6,217.4 137.1,217.4 137.6,217.5 138.1,217.5 138.6,217.6 139.1,217.6 139.6,217.7 140.1,217.7 140.6,217.8 141.1,217.8 141.6,217.9 142.1,217.9 142.6,218.0 143.1,218.0 143.6,218.1 144.1,218.1 144.6,218.2 145.1,218.2 145.6,218.3 146.1,218.3 146.6,218.4 147.1,218.4 147.6,218.5 148.1,218.5 148.6,218.6 149.1,218.6 149.6,218.7" fill="none" stroke="#ff1fe0" stroke-width="1.1" stroke-linejoin="round" stroke-linecap="round" />
<path d="M118.1,214.5 118.6,214.6 119.1,214.6 119.6,214.7 120.1,214.7 120.6,214.8 121.1,214.8 121.6,214.9 122.1,214.9 122.6,214.9 123.1,215.0 123.6,215.0 124.1,215.1 124.6,215.1 125.1,215.2 125.6,215.2 126.1,215.3 126.6,215.3 127.1,215.4 127.6,215.4 128.1,215.5 128.6,215.5 129.1,215.6 129.6,215.6 130.1,215.7 130.6,215.7 131.1,215.8 131.6,215.8 132.1,215.9 132.6,215.9 133.1,216.0 133.6,216.0 134.1,216.1 134.6,216.1 135.1,216.2 135.6,216.2 136.1,216.3 136.6,216.3 137.1,216.3 137.6,216.4 138.1,216.4 138.6,216.5 139.1,216.5 139.6,216.6 140.1,216.6 140.6,216.7 141.1,216.7 141.6,216.8" fill="none" stroke="#169616" stroke-width="1.0" stroke-linejoin="round" stroke-linecap="round" />
<path d="M100.1,212.8 100.6,212.9 101.1,212.9 101.6,213.0 102.1,213.0 102.6,213.0 103.1,213.1 103.6,213.1 104.1,213.2 104.6,213.2 105.1,213.3 105.6,213.3 106.1,213.3 106.6,213.4 107.1,213.4 107.6,213.5 108.1,213.5 108.6,213.5 109.1,213.6 109.6,213.6 110.1,213.6 110.6,213.7 111.1,213.7 111.6,213.7 112.1,213.8 112.6,213.8 113.1,213.8 113.6,213.9 114.1,213.9 114.6,213.9 115.1,213.9 115.6,214.0 116.1,214.0 116.6,214.0 117.1,214.0 117.6,214.0 118.1,214.0 118.6,214.0 119.1,214.0 119.6,214.0 120.1,214.0 120.6,214.0 121.1,213.9 121.6,213.9 122.1,213.8 122.6,213.7 123.1,213.6 123.6,213.5 124.1,213.3 124.6,213.1 125.1,212.7 125.6,212.3 126.1,211.7 126.6,211.0 127.1,210.1 127.6,208.9 128.1,207.5 128.6,205.8 129.1,203.8 129.6,201.7 130.1,199.3 130.6,196.8 131.1,194.5 131.6,192.3 132.1,190.7 132.6,189.8 133.1,189.7 133.6,190.6 134.1,192.2 134.6,194.3 135.1,196.8 135.6,199.3 136.1,201.8 136.6,204.1 137.1,206.2 137.6,208.1 138.1,209.6 138.6,211.0 139.1,212.0 139.6,212.9 140.1,213.6 140.6,214.2 141.1,214.6 141.6,215.0 142.1,215.2 142.6,215.5 143.1,215.7 143.6,215.9 144.1,216.0 144.6,216.2 145.1,216.3 145.6,216.4 146.1,216.5 146.6,216.7 147.1,216.8 147.6,216.8 148.1,216.9 148.6,217.0 149.1,217.1 149.6,217.2 150.1,217.3 150.6,217.3 151.1,217.4 151.6,217.5 152.1,217.6 152.6,217.6 153.1,217.7 153.6,217.8 154.1,217.8 154.6,217.9 155.1,218.0 155.6,218.0 156.1,218.1 156.6,218.1 157.1,218.2 157.6,218.3 158.1,218.3 158.6,218.4 159.1,218.4 159.6,218.5 160.1,218.5 160.6,218.6 161.1,218.7 161.6,218.7 162.1,218.8 162.6,218.8 163.1,218.9 163.6,218.9 164.1,219.0 164.6,219.0 165.1,219.1 165.6,219.1 166.1,219.2 166.6,219.2 167.1,219.3 167.6,219.4 168.1,219.4 168.6,219.5 169.1,219.5 169.6,219.6 170.1,219.6 170.6,219.7 171.1,219.7 171.6,219.8 172.1,219.8 172.6,219.9 173.1,219.9 173.6,220.0 174.1,220.0" fill="none" stroke="#1f1fff" stroke-width="1.3" stroke-linejoin="round" stroke-linecap="round" />
<path d="M26.1,205.1 26.6,204.2 27.1,204.9 27.6,204.0 28.1,204.2 28.6,205.4 29.1,204.4 29.6,203.7 30.1,203.8 30.6,203.8 31.1,204.2 31.6,203.2 32.1,202.4 32.6,203.0 33.1,203.0 33.6,202.9 34.1,203.4 34.6,202.8 35.1,202.9 35.6,201.8 36.1,202.7 36.6,203.2 37.1,202.5 37.6,202.2 38.1,202.1 38.6,202.9 39.1,201.5 39.6,201.9 40.1,202.2 40.6,202.4 41.1,201.9 41.6,202.4 42.1,202.2 42.6,202.5 43.1,202.5 43.6,202.2 44.1,202.9 44.6,203.5 45.1,202.8 45.6,203.3 46.1,204.0 46.6,203.3 47.1,204.2 47.6,203.8 48.1,205.1 48.6,205.9 49.1,205.9 49.6,205.0 50.1,205.7 50.6,205.6 51.1,205.8 51.6,206.7 52.1,205.5 52.6,206.8 53.1,206.4 53.6,207.3 54.1,206.8 54.6,206.5 55.1,207.1 55.6,207.5 56.1,207.2 56.6,207.6" fill="none" stroke="#3a3a3a" stroke-width="0.9" stroke-linejoin="round" stroke-linecap="round" opacity="0.85"/>
<path d="M23.1,265.0 23.6,265.4 24.1,265.4 24.6,266.5 25.1,264.8 25.6,265.1 26.1,264.9 26.6,265.1 27.1,265.3 27.6,264.4 28.1,264.0 28.6,263.5 29.1,263.6 29.6,264.2 30.1,263.7 30.6,263.0 31.1,263.1 31.6,263.0 32.1,263.0 32.6,262.2 33.1,262.1 33.6,261.1 34.1,261.2 34.6,262.3 35.1,260.2 35.6,260.9 36.1,261.0 36.6,260.5 37.1,260.1 37.6,260.3 38.1,260.2 38.6,260.0 39.1,259.0 39.6,259.8 40.1,259.4 40.6,259.6 41.1,260.0 41.6,260.2 42.1,260.4 42.6,259.8 43.1,260.7 43.6,261.0 44.1,261.1 44.6,261.5 45.1,260.9 45.6,261.2 46.1,262.0 46.6,261.1 47.1,262.2 47.6,262.2 48.1,262.6 48.6,262.2 49.1,263.0 49.6,263.8 50.1,264.6 50.6,265.0 51.1,264.8 51.6,265.0 52.1,265.0 52.6,266.0 53.1,265.9 53.6,266.6 54.1,267.5 54.6,266.8 55.1,266.3 55.6,266.9 56.1,266.8 56.6,267.1 57.1,268.5 57.6,268.1 58.1,267.3 58.6,268.4 59.1,268.8 59.6,267.9 60.1,267.6 60.6,267.6 61.1,267.6 61.6,267.3 62.1,267.0 62.6,266.3 63.1,265.3 63.6,264.3 64.1,262.7 64.6,260.3 65.1,259.6 65.6,258.5 66.1,256.9 66.6,256.6 67.1,255.4 67.6,255.0 68.1,256.6 68.6,257.1 69.1,258.1 69.6,259.8 70.1,261.4 70.6,262.5 71.1,262.5 71.6,264.7 72.1,266.0 72.6,266.7 73.1,268.2 73.6,269.4 74.1,269.1 74.6,269.3 75.1,271.3 75.6,270.5 76.1,270.4 76.6,271.6 77.1,272.0 77.6,271.8 78.1,272.9 78.6,272.6 79.1,272.6 79.6,273.3 80.1,273.6 80.6,272.9 81.1,273.2 81.6,272.8 82.1,274.0 82.6,271.9 83.1,272.7 83.6,271.7 84.1,271.5 84.6,271.8 85.1,271.8 85.6,271.9 86.1,271.5 86.6,271.0 87.1,271.1 87.6,271.7 88.1,271.9 88.6,272.4 89.1,272.0 89.6,272.4 90.1,272.8 90.6,272.2 91.1,271.5 91.6,271.8 92.1,271.7 92.6,273.3 93.1,272.2 93.6,273.3 94.1,273.0 94.6,273.6 95.1,273.3 95.6,272.7 96.1,272.6 96.6,272.7 97.1,272.6 97.6,272.1 98.1,272.2 98.6,272.8 99.1,270.9 99.6,271.6 100.1,270.6 100.6,270.8 101.1,270.7 101.6,269.8 102.1,269.7 102.6,268.0 103.1,268.8 103.6,267.4 104.1,267.4 104.6,266.6 105.1,264.6 105.6,264.9 106.1,264.8 106.6,264.8 107.1,263.7 107.6,263.1 108.1,261.9 108.6,262.9 109.1,262.7 109.6,261.6 110.1,261.3 110.6,260.5 111.1,261.7 111.6,262.7 112.1,261.9 112.6,262.4 113.1,262.3 113.6,262.0 114.1,263.6 114.6,262.8 115.1,263.8 115.6,264.6 116.1,265.5 116.6,265.9 117.1,266.5 117.6,266.5 118.1,266.8 118.6,268.0 119.1,268.1 119.6,268.2 120.1,268.6 120.6,269.4 121.1,269.0 121.6,269.5 122.1,269.5 122.6,270.6 123.1,270.8 123.6,271.7 124.1,269.9 124.6,270.2 125.1,270.9 125.6,270.0 126.1,269.5 126.6,269.8 127.1,267.9 127.6,266.5 128.1,265.2 128.6,264.8 129.1,263.4 129.6,261.2 130.1,259.7 130.6,258.6 131.1,256.5 131.6,253.6 132.1,251.8 132.6,249.3 133.1,245.8 133.6,244.6 134.1,243.6 134.6,242.4 135.1,241.8 135.6,243.7 136.1,246.1 136.6,248.9 137.1,249.9 137.6,255.6 138.1,257.1 138.6,261.6 139.1,265.1 139.6,268.1 140.1,270.5 140.6,272.2 141.1,275.2 141.6,276.1 142.1,276.4 142.6,280.0 143.1,279.6 143.6,280.6 144.1,279.6 144.6,281.0 145.1,281.2 145.6,281.2 146.1,280.4 146.6,279.8 147.1,280.2 147.6,279.0 148.1,279.1 148.6,279.8 149.1,279.1 149.6,279.3 150.1,279.2 150.6,280.2 151.1,279.8 151.6,279.2 152.1,279.8 152.6,278.9 153.1,279.2 153.6,279.9 154.1,278.9 154.6,279.4 155.1,279.0 155.6,279.8 156.1,280.6 156.6,279.5 157.1,280.1 157.6,279.6 158.1,279.6 158.6,279.6 159.1,281.0 159.6,281.5 160.1,280.7 160.6,280.1 161.1,280.9 161.6,280.5 162.1,281.1 162.6,280.9 163.1,281.0 163.6,281.2 164.1,280.7 164.6,280.8 165.1,280.2 165.6,281.0 166.1,280.5 166.6,281.2 167.1,280.9 167.6,281.5 168.1,281.7 168.6,280.8 169.1,281.2 169.6,281.2 170.1,282.1 170.6,282.6 171.1,282.3 171.6,281.7 172.1,282.7 172.6,281.3 173.1,282.8 173.6,281.8 174.1,280.8" fill="none" stroke="#3a3a3a" stroke-width="0.9" stroke-linejoin="round" stroke-linecap="round" />
<line x1="22.5" y1="266.20" x2="175" y2="282.50" stroke="#1b1b5a" stroke-width="1"/>
<path d="M23.1,265.5 23.6,265.4 24.1,265.4 24.6,265.3 25.1,265.2 25.6,265.1 26.1,265.0 26.6,264.9 27.1,264.8 27.6,264.6 28.1,264.5 28.6,264.3 29.1,264.1 29.6,263.9 30.1,263.7 30.6,263.5 31.1,263.2 31.6,263.0 32.1,262.8 32.6,262.5 33.1,262.3 33.6,262.0 34.1,261.8 34.6,261.5 35.1,261.3 35.6,261.1 36.1,260.9 36.6,260.7 37.1,260.5 37.6,260.3 38.1,260.2 38.6,260.1 39.1,260.0 39.6,259.9 40.1,259.8 40.6,259.8 41.1,259.9 41.6,259.9 42.1,260.0 42.6,260.1 43.1,260.2 43.6,260.4 44.1,260.6 44.6,260.8 45.1,261.0 45.6,261.3 46.1,261.5 46.6,261.8 47.1,262.1 47.6,262.5 48.1,262.8 48.6,263.1 49.1,263.5 49.6,263.8 50.1,264.1 50.6,264.5 51.1,264.8 51.6,265.1 52.1,265.4 52.6,265.8 53.1,266.0 53.6,266.3 54.1,266.6 54.6,266.8 55.1,267.1 55.6,267.3 56.1,267.5 56.6,267.7 57.1,267.8 57.6,268.0 58.1,268.1 58.6,268.1 59.1,268.1 59.6,268.1 60.1,268.0 60.6,267.8 61.1,267.5 61.6,267.0 62.1,266.4 62.6,265.7 63.1,264.7 63.6,263.6 64.1,262.4 64.6,261.1 65.1,259.7 65.6,258.3 66.1,257.1 66.6,256.1 67.1,255.6 67.6,255.5 68.1,255.9 68.6,256.7 69.1,257.9 69.6,259.4 70.1,260.9 70.6,262.3 71.1,263.8 71.6,265.1 72.1,266.2 72.6,267.2 73.1,268.0 73.6,268.7 74.1,269.2 74.6,269.6 75.1,269.9 75.6,270.2 76.1,270.3 76.6,270.4 77.1,270.5 77.6,270.6 78.1,270.7 78.6,270.7 79.1,270.7 79.6,270.7 80.1,270.7 80.6,270.7 81.1,270.8 81.6,270.8 82.1,270.8 82.6,270.8 83.1,270.8 83.6,270.9 84.1,270.9 84.6,271.0 85.1,271.0 85.6,271.1 86.1,271.2 86.6,271.3 87.1,271.4 87.6,271.5 88.1,271.6 88.6,271.7 89.1,271.8 89.6,271.9 90.1,272.0 90.6,272.1 91.1,272.3 91.6,272.4 92.1,272.5 92.6,272.5 93.1,272.6 93.6,272.7 94.1,272.7 94.6,272.8 95.1,272.8 95.6,272.7 96.1,272.7 96.6,272.6 97.1,272.5 97.6,272.4 98.1,272.2 98.6,272.0 99.1,271.7 99.6,271.4 100.1,271.1 100.6,270.7 101.1,270.3 101.6,269.9 102.1,269.4 102.6,268.8 103.1,268.3 103.6,267.7 104.1,267.1 104.6,266.5 105.1,265.9 105.6,265.2 106.1,264.6 106.6,264.1 107.1,263.5 107.6,263.0 108.1,262.6 108.6,262.2 109.1,261.8 109.6,261.6 110.1,261.4 110.6,261.3 111.1,261.3 111.6,261.4 112.1,261.5 112.6,261.8 113.1,262.1 113.6,262.4 114.1,262.9 114.6,263.4 115.1,263.9 115.6,264.5 116.1,265.1 116.6,265.7 117.1,266.3 117.6,266.8 118.1,267.4 118.6,267.9 119.1,268.4 119.6,268.9 120.1,269.3 120.6,269.6 121.1,269.9 121.6,270.2 122.1,270.3 122.6,270.5 123.1,270.6 123.6,270.7 124.1,270.7 124.6,270.6 125.1,270.4 125.6,270.1 126.1,269.6 126.6,268.9 127.1,268.1 127.6,267.0 128.1,265.9 128.6,264.6 129.1,263.3 129.6,261.8 130.1,260.2 130.6,258.4 131.1,256.2 131.6,253.9 132.1,251.4 132.6,249.0 133.1,246.6 133.6,244.7 134.1,243.2 134.6,242.5 135.1,242.5 135.6,243.3 136.1,244.8 136.6,246.9 137.1,249.4 137.6,252.1 138.1,255.0 138.6,257.8 139.1,260.6 139.6,263.2 140.1,265.5 140.6,267.6 141.1,269.5 141.6,271.0 142.1,272.4 142.6,273.5 143.1,274.4 143.6,275.1 144.1,275.7 144.6,276.2 145.1,276.6 145.6,276.9 146.1,277.2 146.6,277.5 147.1,277.7 147.6,277.9 148.1,278.0 148.6,278.2 149.1,278.4 149.6,278.5 150.1,278.6 150.6,278.7 151.1,278.9 151.6,279.0 152.1,279.1 152.6,279.2 153.1,279.3 153.6,279.4 154.1,279.5 154.6,279.6 155.1,279.7 155.6,279.7 156.1,279.8 156.6,279.9 157.1,280.0 157.6,280.1 158.1,280.1 158.6,280.2 159.1,280.3 159.6,280.4 160.1,280.4 160.6,280.5 161.1,280.6 161.6,280.6 162.1,280.7 162.6,280.8 163.1,280.8 163.6,280.9 164.1,281.0 164.6,281.0 165.1,281.1 165.6,281.2 166.1,281.2 166.6,281.3 167.1,281.4 167.6,281.4 168.1,281.5 168.6,281.5 169.1,281.6 169.6,281.7 170.1,281.7 170.6,281.8 171.1,281.8 171.6,281.9 172.1,282.0 172.6,282.0 173.1,282.1 173.6,282.1 174.1,282.2" fill="none" stroke="#ff850f" stroke-width="1.3" stroke-linejoin="round" stroke-linecap="round" />
<path d="M88.1,273.2 88.6,273.2 89.1,273.3 89.6,273.3 90.1,273.4 90.6,273.4 91.1,273.4 91.6,273.5 92.1,273.5 92.6,273.5 93.1,273.5 93.6,273.5 94.1,273.5 94.6,273.5 95.1,273.4 95.6,273.3 96.1,273.3 96.6,273.1 97.1,273.0 97.6,272.8 98.1,272.6 98.6,272.4 99.1,272.1 99.6,271.8 100.1,271.5 100.6,271.1 101.1,270.7 101.6,270.2 102.1,269.7 102.6,269.2 103.1,268.7 103.6,268.1 104.1,267.5 104.6,266.9 105.1,266.3 105.6,265.7 106.1,265.1 106.6,264.5 107.1,264.0 107.6,263.5 108.1,263.0 108.6,262.6 109.1,262.3 109.6,262.1 110.1,261.9 110.6,261.9 111.1,261.9 111.6,262.0 112.1,262.1 112.6,262.4 113.1,262.8 113.6,263.2 114.1,263.7 114.6,264.2 115.1,264.8 115.6,265.5 116.1,266.1 116.6,266.8 117.1,267.5 117.6,268.3 118.1,269.0 118.6,269.7 119.1,270.4 119.6,271.0 120.1,271.7 120.6,272.3 121.1,272.8 121.6,273.4 122.1,273.8 122.6,274.3 123.1,274.7 123.6,275.1 124.1,275.4 124.6,275.7 125.1,275.9 125.6,276.0 126.1,276.1 126.6,276.0 127.1,275.9 127.6,275.8 128.1,275.7 128.6,275.7 129.1,275.9 129.6,276.3 130.1,276.6 130.6,277.0 131.1,277.3 131.6,277.6" fill="none" stroke="#169616" stroke-width="1.3" stroke-linejoin="round" stroke-linecap="round" />
<path d="M23.1,265.2 23.6,265.2 24.1,265.1 24.6,265.0 25.1,264.9 25.6,264.8 26.1,264.7 26.6,264.6 27.1,264.5 27.6,264.3 28.1,264.2 28.6,264.0 29.1,263.8 29.6,263.6 30.1,263.4 30.6,263.2 31.1,263.0 31.6,262.7 32.1,262.5 32.6,262.2 33.1,262.0 33.6,261.7 34.1,261.5 34.6,261.3 35.1,261.0 35.6,260.8 36.1,260.6 36.6,260.4 37.1,260.2 37.6,260.0 38.1,259.9 38.6,259.8 39.1,259.7 39.6,259.6 40.1,259.6 40.6,259.6 41.1,259.6 41.6,259.6 42.1,259.7 42.6,259.8 43.1,259.9 43.6,260.1 44.1,260.3 44.6,260.5 45.1,260.7 45.6,261.0 46.1,261.3 46.6,261.6 47.1,261.9 47.6,262.2 48.1,262.5 48.6,262.9 49.1,263.2 49.6,263.5 50.1,263.9 50.6,264.2 51.1,264.5 51.6,264.9 52.1,265.2 52.6,265.5 53.1,265.8 53.6,266.1 54.1,266.3 54.6,266.6 55.1,266.8 55.6,267.0 56.1,267.2 56.6,267.4 57.1,267.6 57.6,267.7 58.1,267.8 58.6,267.9 59.1,267.9 59.6,267.8 60.1,267.7 60.6,267.5 61.1,267.2 61.6,266.8 62.1,266.2 62.6,265.4 63.1,264.5 63.6,263.4 64.1,262.2 64.6,260.8 65.1,259.5 65.6,258.1 66.1,256.9 66.6,255.9 67.1,255.4 67.6,255.3 68.1,255.7 68.6,256.6 69.1,257.8 69.6,259.2 70.1,260.7 70.6,262.2 71.1,263.6 71.6,265.0 72.1,266.1 72.6,267.2 73.1,268.0 73.6,268.7 74.1,269.3 74.6,269.7 75.1,270.1 75.6,270.4 76.1,270.6 76.6,270.8 77.1,271.0 77.6,271.1 78.1,271.2 78.6,271.3 79.1,271.4 79.6,271.5 80.1,271.6 80.6,271.7 81.1,271.8 81.6,271.9 82.1,271.9 82.6,272.0 83.1,272.1 83.6,272.2 84.1,272.2 84.6,272.3 85.1,272.4 85.6,272.4 86.1,272.5 86.6,272.6 87.1,272.6 87.6,272.7 88.1,272.7 88.6,272.8 89.1,272.9 89.6,272.9 90.1,273.0 90.6,273.0 91.1,273.1 91.6,273.2 92.1,273.2 92.6,273.3 93.1,273.3 93.6,273.4 94.1,273.4 94.6,273.5 95.1,273.6 95.6,273.6 96.1,273.7 96.6,273.7 97.1,273.8 97.6,273.8 98.1,273.9 98.6,274.0 99.1,274.0 99.6,274.1 100.1,274.1 100.6,274.2 101.1,274.2 101.6,274.3 102.1,274.3 102.6,274.4 103.1,274.5 103.6,274.5 104.1,274.6 104.6,274.6 105.1,274.7 105.6,274.7 106.1,274.8 106.6,274.8 107.1,274.9 107.6,274.9 108.1,275.0 108.6,275.1 109.1,275.1 109.6,275.2 110.1,275.2 110.6,275.3 111.1,275.3 111.6,275.4 112.1,275.4 112.6,275.5 113.1,275.5 113.6,275.6 114.1,275.7 114.6,275.7 115.1,275.8 115.6,275.8 116.1,275.9 116.6,275.9 117.1,276.0 117.6,276.0 118.1,276.1 118.6,276.1 119.1,276.2 119.6,276.3 120.1,276.3 120.6,276.4 121.1,276.4 121.6,276.5 122.1,276.5 122.6,276.6 123.1,276.6 123.6,276.7 124.1,276.7 124.6,276.8 125.1,276.8 125.6,276.9 126.1,277.0 126.6,277.0 127.1,277.1 127.6,277.1 128.1,277.2 128.6,277.2 129.1,277.3 129.6,277.3 130.1,277.4 130.6,277.4 131.1,277.5 131.6,277.5 132.1,277.6 132.6,277.7 133.1,277.7 133.6,277.8 134.1,277.8 134.6,277.9 135.1,277.9 135.6,278.0" fill="none" stroke="#ff1fe0" stroke-width="1.3" stroke-linejoin="round" stroke-linecap="round" />
<path d="M100.1,274.2 100.6,274.3 101.1,274.3 101.6,274.4 102.1,274.4 102.6,274.5 103.1,274.5 103.6,274.6 104.1,274.6 104.6,274.6 105.1,274.7 105.6,274.7 106.1,274.8 106.6,274.8 107.1,274.8 107.6,274.9 108.1,274.9 108.6,275.0 109.1,275.0 109.6,275.0 110.1,275.1 110.6,275.1 111.1,275.1 111.6,275.2 112.1,275.2 112.6,275.2 113.1,275.3 113.6,275.3 114.1,275.3 114.6,275.3 115.1,275.3 115.6,275.3 116.1,275.4 116.6,275.4 117.1,275.4 117.6,275.4 118.1,275.4 118.6,275.4 119.1,275.3 119.6,275.3 120.1,275.3 120.6,275.3 121.1,275.2 121.6,275.1 122.1,275.1 122.6,275.0 123.1,274.8 123.6,274.7 124.1,274.5 124.6,274.2 125.1,273.9 125.6,273.5 126.1,272.9 126.6,272.3 127.1,271.5 127.6,270.5 128.1,269.3 128.6,267.9 129.1,266.3 129.6,264.4 130.1,262.3 130.6,260.0 131.1,257.6 131.6,255.0 132.1,252.4 132.6,250.0 133.1,247.7 133.6,245.9 134.1,244.7 134.6,244.2 135.1,244.5 135.6,245.5 136.1,247.2 136.6,249.4 137.1,251.9 137.6,254.6 138.1,257.3 138.6,259.9 139.1,262.4 139.6,264.7 140.1,266.7 140.6,268.5 141.1,270.1 141.6,271.5 142.1,272.7 142.6,273.7 143.1,274.5 143.6,275.2 144.1,275.7 144.6,276.2 145.1,276.6 145.6,276.9 146.1,277.2 146.6,277.5 147.1,277.7 147.6,277.9 148.1,278.1 148.6,278.2 149.1,278.4 149.6,278.5 150.1,278.6 150.6,278.8 151.1,278.9 151.6,279.0 152.1,279.1 152.6,279.2 153.1,279.3 153.6,279.4 154.1,279.5 154.6,279.6 155.1,279.7 155.6,279.8 156.1,279.8 156.6,279.9 157.1,280.0 157.6,280.1 158.1,280.2 158.6,280.2 159.1,280.3 159.6,280.4 160.1,280.4 160.6,280.5 161.1,280.6 161.6,280.7 162.1,280.7 162.6,280.8 163.1,280.9 163.6,280.9 164.1,281.0 164.6,281.1 165.1,281.1 165.6,281.2 166.1,281.2 166.6,281.3 167.1,281.4 167.6,281.4 168.1,281.5 168.6,281.6 169.1,281.6 169.6,281.7 170.1,281.7 170.6,281.8 171.1,281.9 171.6,281.9 172.1,282.0 172.6,282.0 173.1,282.1 173.6,282.1 174.1,282.2" fill="none" stroke="#1f1fff" stroke-width="1.3" stroke-linejoin="round" stroke-linecap="round" />
<path d="M26.1,264.3 26.6,264.5 27.1,264.7 27.6,263.8 28.1,263.4 28.6,262.9 29.1,263.0 29.6,263.6 30.1,263.1 30.6,262.4 31.1,262.5 31.6,262.4 32.1,262.4 32.6,261.6 33.1,261.5 33.6,260.5 34.1,260.6 34.6,261.7 35.1,259.6 35.6,260.3 36.1,260.4 36.6,259.9 37.1,259.5 37.6,259.7 38.1,259.6 38.6,259.4 39.1,258.4 39.6,259.2 40.1,258.8 40.6,259.0 41.1,259.4 41.6,259.6 42.1,259.8 42.6,259.2 43.1,260.1 43.6,260.4 44.1,260.5 44.6,260.9 45.1,260.3 45.6,260.6 46.1,261.4 46.6,260.5 47.1,261.6 47.6,261.6 48.1,262.0 48.6,261.6 49.1,262.4 49.6,263.2 50.1,264.0 50.6,264.4 51.1,264.2 51.6,264.4 52.1,264.4 52.6,265.4 53.1,265.3 53.6,266.0 54.1,266.9 54.6,266.2 55.1,265.7 55.6,266.3 56.1,266.2 56.6,266.5 57.1,267.9 57.6,267.5" fill="none" stroke="#3a3a3a" stroke-width="0.8" stroke-linejoin="round" stroke-linecap="round" stroke-dasharray="1.5,1.2" opacity="0.85"/>
<path d="M125.1,277.1 125.6,277.1 126.1,277.0 126.6,276.8 127.1,276.4 127.6,275.9 128.1,275.5 128.6,275.3 129.1,275.6 129.6,276.1 130.1,276.7 130.6,277.2 131.1,277.6 131.6,277.8" fill="none" stroke="#3a3a3a" stroke-width="0.9" stroke-linejoin="round" stroke-linecap="round" />
<rect x="22.5" y="175.5" width="152.5" height="113.30000000000001" fill="none" stroke="#2a2a2a" stroke-width="1.2"/>
<line x1="22.5" y1="230.2" x2="175" y2="230.2" stroke="#2a2a2a" stroke-width="1.2"/>
<path d="M28.05,289.40000000000003 v1.2 M37.50,289.40000000000003 v1.2 M46.95,289.40000000000003 v1.2 M56.40,289.40000000000003 v1.2 M65.85,289.40000000000003 v1.2 M75.30,289.40000000000003 v1.2 M84.75,289.40000000000003 v1.2 M94.20,289.40000000000003 v1.2 M103.65,289.40000000000003 v1.2 M113.10,289.40000000000003 v1.2 M122.55,289.40000000000003 v1.2 M132.00,289.40000000000003 v1.2 M141.45,289.40000000000003 v1.2 M150.90,289.40000000000003 v1.2 M160.35,289.40000000000003 v1.2 M169.80,289.40000000000003 v1.2" stroke="#444" stroke-width="0.96" fill="none"/>
<text x="5.6" y="172.5" font-size="13" text-anchor="start" font-weight="bold" stroke="#111" stroke-width="0.35" >(c)</text>
<text x="37.5" y="298.5" font-size="7.2" text-anchor="middle" font-weight="bold" stroke="#111" stroke-width="0.25" >880</text>
<text x="56.4" y="298.5" font-size="7.2" text-anchor="middle" font-weight="bold" stroke="#111" stroke-width="0.25" >875</text>
<text x="75.3" y="298.5" font-size="7.2" text-anchor="middle" font-weight="bold" stroke="#111" stroke-width="0.25" >870</text>
<text x="94.19999999999999" y="298.5" font-size="7.2" text-anchor="middle" font-weight="bold" stroke="#111" stroke-width="0.25" >865</text>
<text x="113.1" y="298.5" font-size="7.2" text-anchor="middle" font-weight="bold" stroke="#111" stroke-width="0.25" >860</text>
<text x="132.0" y="298.5" font-size="7.2" text-anchor="middle" font-weight="bold" stroke="#111" stroke-width="0.25" >855</text>
<text x="150.89999999999998" y="298.5" font-size="7.2" text-anchor="middle" font-weight="bold" stroke="#111" stroke-width="0.25" >850</text>
<text x="169.79999999999998" y="298.5" font-size="7.2" text-anchor="middle" font-weight="bold" stroke="#111" stroke-width="0.25" >845</text>
<text x="102" y="309.6" font-size="7.4" text-anchor="middle" font-weight="bold" stroke="#111" stroke-width="0.2" >Binding energy (eV)</text>
<text x="0" y="0" font-size="7.5" font-weight="bold" text-anchor="middle" stroke="#111" stroke-width="0.2" transform="translate(9.2,229.4) rotate(-90)" dominant-baseline="central">Intensity (a.u.)</text>
<text x="25" y="182.2" font-size="5.3" text-anchor="start" font-weight="bold" stroke="#111" stroke-width="0.18" >1% LiF@NCM</text>
<text x="25" y="189.6" font-size="5.3" text-anchor="start" font-weight="bold" stroke="#111" stroke-width="0.18" >Ni 2p</text>
<text x="58.8" y="197" font-size="6.2" text-anchor="start" font-weight="bold" stroke="#111" stroke-width="0.12" >Ni 2p<tspan font-size="3.84" dy="1.5">1/2</tspan></text>
<text x="137.1" y="198" font-size="6.2" text-anchor="start" font-weight="bold" stroke="#111" stroke-width="0.12" >Ni 2p<tspan font-size="3.84" dy="1.5">3/2</tspan></text>
<text x="24.5" y="238.2" font-size="5.3" text-anchor="start" font-weight="bold" stroke="#111" stroke-width="0.18" >0% LiF@NCM</text>
<text x="24.5" y="245.4" font-size="5.3" text-anchor="start" font-weight="bold" stroke="#111" stroke-width="0.18" >Ni 2p</text>
<text x="57.3" y="252.6" font-size="6.2" text-anchor="start" font-weight="bold" stroke="#111" stroke-width="0.12" >Ni 2p<tspan font-size="3.84" dy="1.5">1/2</tspan></text>
<text x="145.7" y="257.4" font-size="6.2" text-anchor="start" font-weight="bold" stroke="#111" stroke-width="0.12" >Ni 2p<tspan font-size="3.84" dy="1.5">3/2</tspan></text>
<path d="M200.9,207.2 201.4,206.7 201.9,205.4 202.4,206.0 202.9,205.8 203.4,206.0 203.9,205.2 204.4,205.6 204.9,206.2 205.4,206.1 205.9,206.6 206.4,206.0 206.9,207.2 207.4,205.6 207.9,206.1 208.4,205.0 208.9,205.4 209.4,206.7 209.9,205.5 210.4,206.3 210.9,206.0 211.4,205.5 211.9,205.8 212.4,205.7 212.9,205.7 213.4,206.3 213.9,206.2 214.4,205.5 214.9,205.2 215.4,205.7 215.9,205.4 216.4,205.8 216.9,206.4 217.4,205.3 217.9,204.6 218.4,204.2 218.9,203.5 219.4,203.0 219.9,202.6 220.4,202.5 220.9,202.0 221.4,202.2 221.9,201.2 222.4,200.9 222.9,200.0 223.4,201.1 223.9,200.1 224.4,200.4 224.9,199.6 225.4,199.5 225.9,198.2 226.4,198.2 226.9,198.8 227.4,196.3 227.9,197.0 228.4,196.8 228.9,195.7 229.4,195.4 229.9,195.2 230.4,193.8 230.9,194.0 231.4,193.1 231.9,192.9 232.4,192.8 232.9,193.0 233.4,193.2 233.9,193.4 234.4,192.6 234.9,194.6 235.4,194.5 235.9,194.7 236.4,194.6 236.9,195.3 237.4,196.2 237.9,196.7 238.4,196.3 238.9,198.2 239.4,200.0 239.9,198.3 240.4,200.4 240.9,200.8 241.4,201.2 241.9,202.7 242.4,202.0 242.9,203.3 243.4,204.5 243.9,204.2 244.4,204.6 244.9,205.3 245.4,205.5 245.9,206.9 246.4,206.0 246.9,207.2 247.4,206.4 247.9,207.7 248.4,207.5 248.9,206.4 249.4,207.9 249.9,207.5 250.4,208.0 250.9,209.1 251.4,207.9 251.9,208.0 252.4,209.3 252.9,208.7 253.4,209.5 253.9,209.0 254.4,208.4 254.9,208.9 255.4,209.6 255.9,209.5 256.4,209.0 256.9,209.1 257.4,209.0 257.9,208.8 258.4,210.1 258.9,209.2 259.4,208.6 259.9,209.0 260.4,209.6 260.9,209.6 261.4,209.2 261.9,209.0 262.4,209.4 262.9,208.5 263.4,208.7 263.9,209.8 264.4,209.2 264.9,209.6 265.4,210.1 265.9,209.8 266.4,209.5 266.9,210.6 267.4,209.8 267.9,209.3 268.4,209.8 268.9,209.7 269.4,209.0 269.9,209.4 270.4,209.3 270.9,208.3 271.4,209.2 271.9,209.0 272.4,208.9 272.9,208.1 273.4,208.7 273.9,208.7 274.4,208.6 274.9,207.8 275.4,208.5 275.9,207.3 276.4,207.6 276.9,208.1 277.4,206.8 277.9,206.6 278.4,207.1 278.9,206.1 279.4,205.8 279.9,205.8 280.4,205.9 280.9,203.9 281.4,204.3 281.9,203.9 282.4,203.5 282.9,203.3 283.4,202.9 283.9,203.1 284.4,202.1 284.9,202.1 285.4,201.7 285.9,200.6 286.4,200.4 286.9,200.5 287.4,199.0 287.9,197.7 288.4,197.1 288.9,195.8 289.4,195.3 289.9,194.6 290.4,192.6 290.9,191.8 291.4,191.3 291.9,189.4 292.4,188.5 292.9,186.8 293.4,185.8 293.9,184.9 294.4,185.3 294.9,183.2 295.4,182.4 295.9,181.8 296.4,181.6 296.9,181.7 297.4,181.3 297.9,182.2 298.4,181.2 298.9,181.7 299.4,180.9 299.9,180.8 300.4,179.4 300.9,179.8 301.4,179.5 301.9,179.4 302.4,178.7 302.9,180.9 303.4,181.4 303.9,183.0 304.4,185.2 304.9,187.6 305.4,190.6 305.9,192.4 306.4,195.2 306.9,198.2 307.4,200.3 307.9,202.0 308.4,203.6 308.9,205.0 309.4,206.6 309.9,208.4 310.4,208.2 310.9,210.3 311.4,210.7 311.9,210.7 312.4,211.9 312.9,211.4 313.4,211.7 313.9,212.4 314.4,213.3 314.9,213.7 315.4,214.0 315.9,214.6 316.4,213.7 316.9,215.3 317.4,214.6 317.9,215.2 318.4,215.5 318.9,215.3 319.4,215.3 319.9,215.6 320.4,216.2 320.9,216.6 321.4,216.6 321.9,215.9 322.4,216.1 322.9,216.1 323.4,216.8 323.9,215.6 324.4,217.3 324.9,216.5 325.4,216.4 325.9,217.0 326.4,217.4 326.9,217.1 327.4,217.5 327.9,217.1 328.4,217.7 328.9,217.8 329.4,217.2 329.9,218.1 330.4,217.5 330.9,217.6 331.4,217.2 331.9,217.6 332.4,218.2 332.9,217.3 333.4,218.4 333.9,218.3 334.4,218.4 334.9,217.3 335.4,218.5 335.9,219.0 336.4,218.4 336.9,218.9 337.4,217.8 337.9,219.4 338.4,218.8 338.9,219.7 339.4,218.4 339.9,219.8 340.4,219.4 340.9,220.1 341.4,219.3 341.9,219.5 342.4,221.0 342.9,219.6 343.4,219.7 343.9,220.0 344.4,219.7 344.9,220.9 345.4,221.2 345.9,220.1 346.4,219.6 346.9,221.1 347.4,221.1 347.9,221.0 348.4,221.3 348.9,220.3 349.4,220.7 349.9,220.1 350.4,220.1 350.9,221.4 351.4,220.6 351.9,222.1 352.4,221.0 352.9,220.7 353.4,221.4 353.9,222.0 354.4,221.3 354.9,220.5 355.4,221.3 355.9,221.9 356.4,221.0 356.9,220.8 357.4,221.8 357.9,221.3" fill="none" stroke="#3a3a3a" stroke-width="1.0" stroke-linejoin="round" stroke-linecap="round" />
<path d="M200.9,205.9 201.4,205.9 201.9,205.9 202.4,205.9 202.9,205.9 203.4,206.0 203.9,206.0 204.4,206.0 204.9,206.0 205.4,206.0 205.9,206.0 206.4,206.0 206.9,206.0 207.4,206.0 207.9,206.0 208.4,206.0 208.9,206.0 209.4,206.0 209.9,206.0 210.4,206.0 210.9,206.0 211.4,206.0 211.9,206.0 212.4,205.9 212.9,205.9 213.4,205.9 213.9,205.8 214.4,205.8 214.9,205.7 215.4,205.6 215.9,205.5 216.4,205.3 216.9,205.1 217.4,204.9 217.9,204.6 218.4,204.2 218.9,203.9 219.4,203.5 219.9,203.1 220.4,202.7 220.9,202.2 221.4,201.8 221.9,201.4 222.4,201.0 222.9,200.6 223.4,200.3 223.9,199.9 224.4,199.5 224.9,199.2 225.4,198.8 225.9,198.3 226.4,197.9 226.9,197.4 227.4,196.9 227.9,196.4 228.4,195.9 228.9,195.4 229.4,195.0 229.9,194.5 230.4,194.1 230.9,193.8 231.4,193.5 231.9,193.3 232.4,193.1 232.9,193.1 233.4,193.1 233.9,193.2 234.4,193.3 234.9,193.6 235.4,193.9 235.9,194.3 236.4,194.8 236.9,195.3 237.4,195.9 237.9,196.5 238.4,197.2 238.9,197.8 239.4,198.5 239.9,199.2 240.4,199.9 240.9,200.6 241.4,201.3 241.9,201.9 242.4,202.6 242.9,203.2 243.4,203.8 243.9,204.3 244.4,204.8 244.9,205.3 245.4,205.7 245.9,206.1 246.4,206.5 246.9,206.8 247.4,207.1 247.9,207.3 248.4,207.5 248.9,207.7 249.4,207.9 249.9,208.1 250.4,208.2 250.9,208.3 251.4,208.4 251.9,208.5 252.4,208.6 252.9,208.7 253.4,208.7 253.9,208.8 254.4,208.9 254.9,208.9 255.4,208.9 255.9,209.0 256.4,209.0 256.9,209.1 257.4,209.1 257.9,209.1 258.4,209.1 258.9,209.2 259.4,209.2 259.9,209.2 260.4,209.3 260.9,209.3 261.4,209.3 261.9,209.3 262.4,209.3 262.9,209.4 263.4,209.4 263.9,209.4 264.4,209.4 264.9,209.4 265.4,209.5 265.9,209.5 266.4,209.5 266.9,209.5 267.4,209.5 267.9,209.5 268.4,209.5 268.9,209.5 269.4,209.4 269.9,209.4 270.4,209.4 270.9,209.3 271.4,209.2 271.9,209.2 272.4,209.1 272.9,209.0 273.4,208.8 273.9,208.7 274.4,208.5 274.9,208.3 275.4,208.1 275.9,207.9 276.4,207.7 276.9,207.4 277.4,207.2 277.9,206.9 278.4,206.6 278.9,206.3 279.4,206.0 279.9,205.6 280.4,205.3 280.9,205.0 281.4,204.7 281.9,204.4 282.4,204.1 282.9,203.7 283.4,203.4 283.9,202.9 284.4,202.5 284.9,202.0 285.4,201.5 285.9,201.0 286.4,200.3 286.9,199.6 287.4,198.9 287.9,198.1 288.4,197.2 288.9,196.2 289.4,195.2 289.9,194.1 290.4,193.0 290.9,191.9 291.4,190.8 291.9,189.6 292.4,188.4 292.9,187.3 293.4,186.2 293.9,185.2 294.4,184.2 294.9,183.4 295.4,182.7 295.9,182.1 296.4,181.7 296.9,181.4 297.4,181.3 297.9,181.2 298.4,181.1 298.9,181.0 299.4,180.8 299.9,180.5 300.4,180.2 300.9,179.8 301.4,179.6 301.9,179.5 302.4,179.8 302.9,180.5 303.4,181.7 303.9,183.3 304.4,185.4 304.9,187.8 305.4,190.5 305.9,193.2 306.4,195.8 306.9,198.2 307.4,200.4 307.9,202.4 308.4,204.1 308.9,205.6 309.4,206.9 309.9,208.1 310.4,209.0 310.9,209.9 311.4,210.7 311.9,211.4 312.4,212.0 312.9,212.6 313.4,213.2 313.9,213.7 314.4,214.2 314.9,214.6 315.4,215.0 315.9,215.4 316.4,215.8 316.9,216.1 317.4,216.4 317.9,216.7 318.4,216.9 318.9,217.2 319.4,217.4 319.9,217.6 320.4,217.8 320.9,217.9 321.4,218.0 321.9,218.2 322.4,218.3 322.9,218.4 323.4,218.5 323.9,218.6 324.4,218.7 324.9,218.8 325.4,218.9 325.9,218.9 326.4,219.0 326.9,219.1 327.4,219.2 327.9,219.2 328.4,219.3 328.9,219.4 329.4,219.4 329.9,219.5 330.4,219.5 330.9,219.6 331.4,219.7 331.9,219.7 332.4,219.8 332.9,219.8 333.4,219.9 333.9,219.9 334.4,220.0 334.9,220.1 335.4,220.1 335.9,220.1 336.4,220.2 336.9,220.2 337.4,220.2 337.9,220.3 338.4,220.3 338.9,220.3 339.4,220.4 339.9,220.4 340.4,220.4 340.9,220.4 341.4,220.5 341.9,220.5 342.4,220.5 342.9,220.6 343.4,220.6 343.9,220.6 344.4,220.6 344.9,220.7 345.4,220.7 345.9,220.7 346.4,220.7 346.9,220.8 347.4,220.8 347.9,220.8 348.4,220.8 348.9,220.9 349.4,220.9 349.9,220.9 350.4,220.9 350.9,221.0 351.4,221.0 351.9,221.0 352.4,221.0 352.9,221.1 353.4,221.1 353.9,221.1 354.4,221.1 354.9,221.2 355.4,221.2 355.9,221.2 356.4,221.2 356.9,221.2 357.4,221.3 357.9,221.3" fill="none" stroke="#ff850f" stroke-width="1.7" stroke-linejoin="round" stroke-linecap="round" />
<path d="M200.9,205.9 201.4,205.9 201.9,205.9 202.4,205.9 202.9,205.9 203.4,206.0 203.9,206.0 204.4,206.0 204.9,206.0 205.4,206.0 205.9,206.0 206.4,206.0 206.9,206.0 207.4,206.0 207.9,206.0 208.4,206.0 208.9,206.0 209.4,206.0 209.9,206.0 210.4,206.0 210.9,206.0 211.4,206.0 211.9,206.0 212.4,206.1 212.9,206.1 213.4,206.1 213.9,206.1 214.4,206.1 214.9,206.1 215.4,206.1 215.9,206.1 216.4,206.1 216.9,206.2 217.4,206.2 217.9,206.2 218.4,206.2 218.9,206.2 219.4,206.3 219.9,206.3 220.4,206.3 220.9,206.3 221.4,206.3 221.9,206.4 222.4,206.4 222.9,206.4 223.4,206.4 223.9,206.4 224.4,206.5 224.9,206.5 225.4,206.5 225.9,206.6 226.4,206.6 226.9,206.6 227.4,206.7 227.9,206.7 228.4,206.7 228.9,206.8 229.4,206.8 229.9,206.8 230.4,206.9 230.9,206.9 231.4,206.9 231.9,207.0 232.4,207.0 232.9,207.0 233.4,207.1 233.9,207.1 234.4,207.1 234.9,207.2 235.4,207.2 235.9,207.3 236.4,207.3 236.9,207.4 237.4,207.5 237.9,207.5 238.4,207.6 238.9,207.6 239.4,207.7 239.9,207.7 240.4,207.8 240.9,207.8 241.4,207.9 241.9,207.9 242.4,208.0 242.9,208.0 243.4,208.1 243.9,208.2 244.4,208.2 244.9,208.3 245.4,208.3 245.9,208.4 246.4,208.4 246.9,208.5 247.4,208.5 247.9,208.5 248.4,208.6 248.9,208.6 249.4,208.6 249.9,208.7 250.4,208.7 250.9,208.7 251.4,208.8 251.9,208.8 252.4,208.8 252.9,208.9 253.4,208.9 253.9,208.9 254.4,208.9 254.9,209.0 255.4,209.0 255.9,209.0 256.4,209.1 256.9,209.1 257.4,209.1 257.9,209.1 258.4,209.2 258.9,209.2 259.4,209.2 259.9,209.2 260.4,209.3 260.9,209.3 261.4,209.3 261.9,209.3 262.4,209.3 262.9,209.4 263.4,209.4 263.9,209.4 264.4,209.4 264.9,209.4 265.4,209.5 265.9,209.5 266.4,209.5 266.9,209.5 267.4,209.5 267.9,209.5 268.4,209.5 268.9,209.5 269.4,209.4 269.9,209.4 270.4,209.4 270.9,209.3 271.4,209.2 271.9,209.2 272.4,209.1 272.9,209.0 273.4,208.8 273.9,208.7 274.4,208.5 274.9,208.3 275.4,208.1 275.9,207.9 276.4,207.7 276.9,207.4 277.4,207.2 277.9,206.9 278.4,206.6 278.9,206.3 279.4,206.0 279.9,205.6 280.4,205.3 280.9,205.0 281.4,204.7 281.9,204.4 282.4,204.1 282.9,203.7 283.4,203.4 283.9,202.9 284.4,202.5 284.9,202.0 285.4,201.5 285.9,201.0 286.4,200.3 286.9,199.6 287.4,198.9 287.9,198.1 288.4,197.2 288.9,196.2 289.4,195.2 289.9,194.1 290.4,193.0 290.9,191.9 291.4,190.8 291.9,189.6 292.4,188.4 292.9,187.3 293.4,186.2 293.9,185.2 294.4,184.2 294.9,183.4 295.4,182.7 295.9,182.2 296.4,181.9 296.9,181.7 297.4,181.8 297.9,182.1 298.4,182.5 298.9,183.0 299.4,183.7 299.9,184.6 300.4,185.5 300.9,186.5 301.4,187.6 301.9,188.8 302.4,190.1 302.9,191.3 303.4,192.6 303.9,194.0 304.4,195.3 304.9,196.7 305.4,198.0 305.9,199.3 306.4,200.5 306.9,201.8 307.4,203.0 307.9,204.1 308.4,205.3 308.9,206.3 309.4,207.4 309.9,208.3 310.4,209.2 310.9,210.0 311.4,210.7 311.9,211.4 312.4,212.0 312.9,212.6 313.4,213.2 313.9,213.7 314.4,214.2 314.9,214.6 315.4,215.0 315.9,215.4 316.4,215.8 316.9,216.1 317.4,216.4 317.9,216.7 318.4,216.9 318.9,217.2 319.4,217.4 319.9,217.6 320.4,217.8 320.9,217.9 321.4,218.0 321.9,218.2 322.4,218.3 322.9,218.4 323.4,218.5 323.9,218.6 324.4,218.7 324.9,218.8 325.4,218.9 325.9,218.9 326.4,219.0 326.9,219.1 327.4,219.2 327.9,219.2 328.4,219.3 328.9,219.4 329.4,219.4 329.9,219.5 330.4,219.5 330.9,219.6 331.4,219.7 331.9,219.7 332.4,219.8 332.9,219.8 333.4,219.9 333.9,219.9 334.4,220.0 334.9,220.1 335.4,220.1 335.9,220.1 336.4,220.2 336.9,220.2 337.4,220.2 337.9,220.3 338.4,220.3 338.9,220.3 339.4,220.4 339.9,220.4 340.4,220.4 340.9,220.4 341.4,220.5 341.9,220.5 342.4,220.5 342.9,220.6 343.4,220.6 343.9,220.6 344.4,220.6 344.9,220.7 345.4,220.7 345.9,220.7 346.4,220.7 346.9,220.8 347.4,220.8 347.9,220.8 348.4,220.8 348.9,220.9 349.4,220.9 349.9,220.9 350.4,220.9 350.9,221.0 351.4,221.0 351.9,221.0 352.4,221.0 352.9,221.1 353.4,221.1 353.9,221.1 354.4,221.1 354.9,221.2 355.4,221.2 355.9,221.2 356.4,221.2 356.9,221.2 357.4,221.3 357.9,221.3" fill="none" stroke="#169616" stroke-width="1.7" stroke-linejoin="round" stroke-linecap="round" />
<path d="M200.9,206.0 201.4,206.0 201.9,206.0 202.4,206.0 202.9,206.0 203.4,206.0 203.9,206.1 204.4,206.1 204.9,206.1 205.4,206.1 205.9,206.1 206.4,206.1 206.9,206.1 207.4,206.1 207.9,206.1 208.4,206.1 208.9,206.1 209.4,206.1 209.9,206.1 210.4,206.1 210.9,206.1 211.4,206.2 211.9,206.2 212.4,206.2 212.9,206.2 213.4,206.2 213.9,206.2 214.4,206.2 214.9,206.2 215.4,206.2 215.9,206.2 216.4,206.3 216.9,206.3 217.4,206.3 217.9,206.3 218.4,206.4 218.9,206.4 219.4,206.4 219.9,206.4 220.4,206.4 220.9,206.5 221.4,206.5 221.9,206.5 222.4,206.5 222.9,206.6 223.4,206.6 223.9,206.6 224.4,206.6 224.9,206.7 225.4,206.7 225.9,206.7 226.4,206.8 226.9,206.8 227.4,206.8 227.9,206.9 228.4,206.9 228.9,207.0 229.4,207.0 229.9,207.0 230.4,207.1 230.9,207.1 231.4,207.1 231.9,207.2 232.4,207.2 232.9,207.2 233.4,207.3 233.9,207.3 234.4,207.4 234.9,207.4 235.4,207.4 235.9,207.5 236.4,207.6 236.9,207.6 237.4,207.7 237.9,207.7 238.4,207.8 238.9,207.9 239.4,207.9 239.9,208.0 240.4,208.0 240.9,208.1 241.4,208.1 241.9,208.2 242.4,208.3 242.9,208.3 243.4,208.4 243.9,208.4 244.4,208.5 244.9,208.6 245.4,208.6 245.9,208.7 246.4,208.7 246.9,208.8 247.4,208.8 247.9,208.9 248.4,208.9 248.9,208.9 249.4,209.0 249.9,209.0 250.4,209.1 250.9,209.1 251.4,209.1 251.9,209.2 252.4,209.2 252.9,209.3 253.4,209.3 253.9,209.3 254.4,209.4 254.9,209.4 255.4,209.5 255.9,209.5 256.4,209.5 256.9,209.6 257.4,209.6 257.9,209.6 258.4,209.7 258.9,209.7 259.4,209.8 259.9,209.8 260.4,209.8 260.9,209.9 261.4,209.9 261.9,210.0 262.4,210.0 262.9,210.0 263.4,210.1 263.9,210.1 264.4,210.2 264.9,210.2 265.4,210.2 265.9,210.3 266.4,210.3 266.9,210.4 267.4,210.4 267.9,210.4 268.4,210.5 268.9,210.5 269.4,210.6 269.9,210.6 270.4,210.6 270.9,210.7 271.4,210.7 271.9,210.8 272.4,210.8 272.9,210.8 273.4,210.9 273.9,210.9 274.4,211.0 274.9,211.0 275.4,211.0 275.9,211.1 276.4,211.1 276.9,211.2 277.4,211.2 277.9,211.2 278.4,211.3 278.9,211.3 279.4,211.4 279.9,211.4 280.4,211.5 280.9,211.5 281.4,211.6 281.9,211.7 282.4,211.7 282.9,211.8 283.4,211.9 283.9,211.9 284.4,212.0 284.9,212.1 285.4,212.2 285.9,212.2 286.4,212.3 286.9,212.4 287.4,212.4 287.9,212.5 288.4,212.6 288.9,212.6 289.4,212.7 289.9,212.8 290.4,212.9 290.9,213.0 291.4,213.1 291.9,213.2 292.4,213.3 292.9,213.4 293.4,213.5 293.9,213.6 294.4,213.7 294.9,213.8 295.4,213.8 295.9,213.9 296.4,213.9 296.9,213.9 297.4,213.8 297.9,213.6 298.4,213.3 298.9,212.7 299.4,212.0 299.9,211.0 300.4,209.9 300.9,208.7 301.4,207.5 301.9,206.4 302.4,205.6 302.9,205.1 303.4,205.1 303.9,205.6 304.4,206.6 304.9,207.8 305.4,209.3 305.9,210.8 306.4,212.3 306.9,213.7 307.4,214.9 307.9,215.9 308.4,216.6 308.9,217.2 309.4,217.7 309.9,218.0 310.4,218.2 310.9,218.4 311.4,218.5 311.9,218.6 312.4,218.7 312.9,218.7 313.4,218.8 313.9,218.9 314.4,219.0 314.9,219.0 315.4,219.1 315.9,219.2 316.4,219.3 316.9,219.3 317.4,219.4 317.9,219.5 318.4,219.6 318.9,219.6 319.4,219.7 319.9,219.8 320.4,219.8 320.9,219.9 321.4,219.9 321.9,219.9 322.4,220.0 322.9,220.0 323.4,220.0 323.9,220.1 324.4,220.1 324.9,220.1 325.4,220.2 325.9,220.2 326.4,220.2 326.9,220.3 327.4,220.3 327.9,220.3 328.4,220.4 328.9,220.4 329.4,220.4 329.9,220.5 330.4,220.5 330.9,220.5 331.4,220.6 331.9,220.6 332.4,220.6 332.9,220.7 333.4,220.7 333.9,220.7 334.4,220.8 334.9,220.8 335.4,220.8 335.9,220.8 336.4,220.8 336.9,220.9 337.4,220.9 337.9,220.9 338.4,220.9 338.9,220.9 339.4,221.0 339.9,221.0 340.4,221.0 340.9,221.0 341.4,221.0 341.9,221.0 342.4,221.1 342.9,221.1 343.4,221.1 343.9,221.1 344.4,221.1 344.9,221.1 345.4,221.2 345.9,221.2 346.4,221.2 346.9,221.2 347.4,221.2 347.9,221.2 348.4,221.3 348.9,221.3 349.4,221.3 349.9,221.3 350.4,221.3 350.9,221.3 351.4,221.4 351.9,221.4 352.4,221.4 352.9,221.4 353.4,221.4 353.9,221.4 354.4,221.5 354.9,221.5 355.4,221.5 355.9,221.5 356.4,221.5 356.9,221.5 357.4,221.6 357.9,221.6" fill="none" stroke="#ff1fe0" stroke-width="1.6" stroke-linejoin="round" stroke-linecap="round" />
<path d="M218.4,205.3 218.9,205.1 219.4,204.9 219.9,204.6 220.4,204.4 220.9,204.1 221.4,203.7 221.9,203.4 222.4,202.9 222.9,202.5 223.4,202.0 223.9,201.5 224.4,201.0 224.9,200.4 225.4,199.9 225.9,199.3 226.4,198.7 226.9,198.1 227.4,197.5 227.9,196.9 228.4,196.3 228.9,195.7 229.4,195.2 229.9,194.8 230.4,194.4 230.9,194.0 231.4,193.7 231.9,193.5 232.4,193.3 232.9,193.3 233.4,193.3 233.9,193.4 234.4,193.5 234.9,193.8 235.4,194.1 235.9,194.6 236.4,195.0 236.9,195.6 237.4,196.1 237.9,196.8 238.4,197.4 238.9,198.1 239.4,198.8 239.9,199.5 240.4,200.2 240.9,200.9 241.4,201.6 241.9,202.2 242.4,202.9 242.9,203.5 243.4,204.0 243.9,204.6 244.4,205.1 244.9,205.6 245.4,206.0 245.9,206.4 246.4,206.8 246.9,207.1 247.4,207.4 247.9,207.7 248.4,207.9 248.9,208.1" fill="none" stroke="#1f1fff" stroke-width="1.7" stroke-linejoin="round" stroke-linecap="round" />
<path d="M289.4,212.7 289.9,212.8 290.4,212.9 290.9,213.0 291.4,213.1 291.9,213.2 292.4,213.3 292.9,213.4 293.4,213.5 293.9,213.6 294.4,213.7 294.9,213.8 295.4,213.9 295.9,214.0 296.4,214.1 296.9,214.2 297.4,214.3 297.9,214.5 298.4,214.6 298.9,214.8 299.4,214.9 299.9,215.1 300.4,215.2 300.9,215.4 301.4,215.5 301.9,215.7 302.4,215.8 302.9,216.0 303.4,216.1 303.9,216.3 304.4,216.5 304.9,216.6 305.4,216.8 305.9,217.0 306.4,217.1 306.9,217.3 307.4,217.4 307.9,217.6 308.4,217.8 308.9,217.9 309.4,218.1 309.9,218.3 310.4,218.4 310.9,218.4 311.4,218.5 311.9,218.6 312.4,218.7 312.9,218.7 313.4,218.8 313.9,218.9" fill="none" stroke="#1f1fff" stroke-width="1.5" stroke-linejoin="round" stroke-linecap="round" />
<path d="M296.4,213.9 296.9,213.9 297.4,213.8 297.9,213.6 298.4,213.3 298.9,212.7 299.4,212.0 299.9,211.0 300.4,209.9 300.9,208.7 301.4,207.5 301.9,206.4 302.4,205.6 302.9,205.1 303.4,205.1 303.9,205.6 304.4,206.6 304.9,207.8 305.4,209.3 305.9,210.8 306.4,212.3 306.9,213.7 307.4,214.9 307.9,215.9 308.4,216.6 308.9,217.2 309.4,217.7 309.9,218.0 310.4,218.2 310.9,218.4 311.4,218.5 311.9,218.6" fill="none" stroke="#ff1fe0" stroke-width="1.6" stroke-linejoin="round" stroke-linecap="round" />
<path d="M200.9,259.1 201.4,259.5 201.9,259.3 202.4,259.9 202.9,259.8 203.4,260.3 203.9,260.1 204.4,259.0 204.9,260.0 205.4,260.3 205.9,260.1 206.4,260.4 206.9,259.6 207.4,259.4 207.9,260.4 208.4,259.4 208.9,258.9 209.4,260.5 209.9,259.6 210.4,259.8 210.9,259.3 211.4,259.3 211.9,259.4 212.4,259.8 212.9,260.2 213.4,258.9 213.9,260.4 214.4,259.4 214.9,259.4 215.4,260.3 215.9,259.9 216.4,259.1 216.9,260.7 217.4,259.2 217.9,259.6 218.4,259.4 218.9,259.8 219.4,258.6 219.9,259.0 220.4,257.8 220.9,258.3 221.4,257.0 221.9,256.7 222.4,257.4 222.9,256.1 223.4,255.5 223.9,256.2 224.4,254.8 224.9,253.8 225.4,254.2 225.9,252.8 226.4,253.6 226.9,253.2 227.4,251.9 227.9,251.4 228.4,251.3 228.9,250.7 229.4,249.6 229.9,249.8 230.4,248.0 230.9,248.2 231.4,247.7 231.9,247.2 232.4,247.0 232.9,245.8 233.4,246.3 233.9,245.6 234.4,245.1 234.9,244.5 235.4,244.5 235.9,245.3 236.4,244.7 236.9,245.3 237.4,246.1 237.9,246.3 238.4,247.0 238.9,246.5 239.4,246.6 239.9,248.2 240.4,248.5 240.9,249.5 241.4,249.7 241.9,251.0 242.4,251.5 242.9,252.2 243.4,252.8 243.9,253.5 244.4,254.1 244.9,254.8 245.4,255.9 245.9,255.8 246.4,257.6 246.9,257.3 247.4,258.4 247.9,258.3 248.4,258.8 248.9,260.3 249.4,259.6 249.9,259.5 250.4,260.1 250.9,260.6 251.4,262.1 251.9,261.4 252.4,262.0 252.9,261.2 253.4,262.1 253.9,262.4 254.4,263.1 254.9,261.9 255.4,262.7 255.9,262.6 256.4,262.1 256.9,262.6 257.4,262.6 257.9,261.6 258.4,263.1 258.9,263.2 259.4,262.7 259.9,262.3 260.4,263.7 260.9,263.2 261.4,263.6 261.9,263.8 262.4,262.9 262.9,263.6 263.4,263.1 263.9,263.2 264.4,263.2 264.9,263.3 265.4,263.8 265.9,263.4 266.4,263.2 266.9,263.2 267.4,263.5 267.9,262.9 268.4,263.1 268.9,263.3 269.4,263.1 269.9,263.3 270.4,263.0 270.9,264.3 271.4,263.9 271.9,263.5 272.4,263.2 272.9,264.2 273.4,263.2 273.9,263.0 274.4,263.1 274.9,262.9 275.4,263.3 275.9,262.5 276.4,263.3 276.9,261.6 277.4,262.2 277.9,261.1 278.4,262.2 278.9,260.9 279.4,260.7 279.9,260.8 280.4,260.7 280.9,259.1 281.4,259.1 281.9,258.2 282.4,258.5 282.9,258.0 283.4,257.4 283.9,256.8 284.4,256.5 284.9,255.8 285.4,255.9 285.9,255.8 286.4,253.5 286.9,253.8 287.4,252.9 287.9,252.7 288.4,251.2 288.9,250.8 289.4,249.4 289.9,249.3 290.4,248.0 290.9,246.8 291.4,246.0 291.9,244.5 292.4,242.6 292.9,242.3 293.4,240.9 293.9,239.3 294.4,238.6 294.9,237.4 295.4,235.0 295.9,234.0 296.4,234.1 296.9,233.0 297.4,231.1 297.9,230.2 298.4,229.9 298.9,229.7 299.4,229.0 299.9,229.7 300.4,229.0 300.9,229.1 301.4,230.0 301.9,229.0 302.4,229.0 302.9,228.8 303.4,228.4 303.9,227.3 304.4,227.2 304.9,226.9 305.4,228.8 305.9,229.5 306.4,230.4 306.9,233.4 307.4,236.5 307.9,239.5 308.4,243.2 308.9,246.0 309.4,247.8 309.9,250.5 310.4,252.0 310.9,254.7 311.4,256.2 311.9,258.9 312.4,258.8 312.9,258.7 313.4,260.3 313.9,261.6 314.4,261.7 314.9,262.6 315.4,263.5 315.9,264.5 316.4,264.9 316.9,265.0 317.4,266.4 317.9,266.2 318.4,266.6 318.9,266.6 319.4,267.2 319.9,268.3 320.4,267.4 320.9,268.5 321.4,269.2 321.9,268.9 322.4,269.4 322.9,269.0 323.4,270.4 323.9,270.5 324.4,270.2 324.9,269.4 325.4,270.0 325.9,271.2 326.4,271.7 326.9,271.2 327.4,271.8 327.9,271.1 328.4,271.4 328.9,271.7 329.4,272.1 329.9,271.3 330.4,272.7 330.9,273.1 331.4,272.1 331.9,272.2 332.4,273.2 332.9,272.9 333.4,272.3 333.9,274.0 334.4,273.9 334.9,273.8 335.4,275.3 335.9,274.5 336.4,274.2 336.9,274.8 337.4,274.4 337.9,274.8 338.4,275.5 338.9,275.2 339.4,275.4 339.9,276.6 340.4,276.4 340.9,276.5 341.4,276.4 341.9,276.5 342.4,277.1 342.9,276.5 343.4,277.6 343.9,276.2 344.4,276.7 344.9,276.2 345.4,276.8 345.9,277.3 346.4,277.9 346.9,276.9 347.4,277.3 347.9,277.2 348.4,277.0 348.9,276.8 349.4,277.5 349.9,276.7 350.4,277.6 350.9,277.6 351.4,277.4 351.9,277.2 352.4,277.1 352.9,278.7 353.4,277.2 353.9,278.7 354.4,278.2 354.9,277.8 355.4,277.4 355.9,278.5 356.4,278.9 356.9,277.6 357.4,277.9 357.9,278.6" fill="none" stroke="#3a3a3a" stroke-width="1.0" stroke-linejoin="round" stroke-linecap="round" />
<path d="M200.9,259.7 201.4,259.7 201.9,259.7 202.4,259.7 202.9,259.7 203.4,259.8 203.9,259.8 204.4,259.8 204.9,259.8 205.4,259.8 205.9,259.9 206.4,259.9 206.9,259.9 207.4,259.9 207.9,259.9 208.4,259.9 208.9,259.9 209.4,260.0 209.9,260.0 210.4,260.0 210.9,260.0 211.4,260.0 211.9,260.0 212.4,260.0 212.9,260.0 213.4,260.0 213.9,260.0 214.4,260.0 214.9,260.0 215.4,259.9 215.9,259.9 216.4,259.8 216.9,259.8 217.4,259.7 217.9,259.5 218.4,259.3 218.9,259.1 219.4,258.8 219.9,258.5 220.4,258.2 220.9,257.8 221.4,257.3 221.9,256.9 222.4,256.4 222.9,255.9 223.4,255.5 223.9,255.0 224.4,254.6 224.9,254.2 225.4,253.8 225.9,253.4 226.4,253.0 226.9,252.6 227.4,252.2 227.9,251.7 228.4,251.2 228.9,250.7 229.4,250.1 229.9,249.5 230.4,249.0 230.9,248.4 231.4,247.9 231.9,247.3 232.4,246.8 232.9,246.4 233.4,246.0 233.9,245.7 234.4,245.4 234.9,245.2 235.4,245.1 235.9,245.1 236.4,245.2 236.9,245.3 237.4,245.5 237.9,245.8 238.4,246.2 238.9,246.6 239.4,247.1 239.9,247.7 240.4,248.3 240.9,249.0 241.4,249.7 241.9,250.4 242.4,251.1 242.9,251.8 243.4,252.6 243.9,253.3 244.4,254.0 244.9,254.7 245.4,255.4 245.9,256.1 246.4,256.7 246.9,257.3 247.4,257.9 247.9,258.4 248.4,258.9 248.9,259.3 249.4,259.7 249.9,260.1 250.4,260.5 250.9,260.8 251.4,261.1 251.9,261.3 252.4,261.5 252.9,261.7 253.4,261.9 253.9,262.0 254.4,262.2 254.9,262.3 255.4,262.4 255.9,262.5 256.4,262.6 256.9,262.6 257.4,262.7 257.9,262.8 258.4,262.8 258.9,262.9 259.4,262.9 259.9,263.0 260.4,263.0 260.9,263.0 261.4,263.1 261.9,263.1 262.4,263.1 262.9,263.2 263.4,263.2 263.9,263.2 264.4,263.2 264.9,263.3 265.4,263.3 265.9,263.3 266.4,263.3 266.9,263.3 267.4,263.3 267.9,263.3 268.4,263.4 268.9,263.4 269.4,263.4 269.9,263.3 270.4,263.3 270.9,263.3 271.4,263.3 271.9,263.2 272.4,263.2 272.9,263.1 273.4,263.1 273.9,263.0 274.4,262.9 274.9,262.8 275.4,262.6 275.9,262.5 276.4,262.3 276.9,262.1 277.4,261.9 277.9,261.6 278.4,261.3 278.9,261.0 279.4,260.7 279.9,260.4 280.4,260.0 280.9,259.7 281.4,259.3 281.9,258.9 282.4,258.5 282.9,258.0 283.4,257.6 283.9,257.1 284.4,256.7 284.9,256.2 285.4,255.6 285.9,255.1 286.4,254.5 286.9,253.8 287.4,253.2 287.9,252.4 288.4,251.7 288.9,250.8 289.4,250.0 289.9,249.0 290.4,248.0 290.9,246.9 291.4,245.8 291.9,244.6 292.4,243.3 292.9,242.1 293.4,240.7 293.9,239.4 294.4,238.1 294.9,236.8 295.4,235.6 295.9,234.4 296.4,233.3 296.9,232.3 297.4,231.5 297.9,230.8 298.4,230.3 298.9,230.0 299.4,229.8 299.9,229.7 300.4,229.8 300.9,229.7 301.4,229.7 301.9,229.5 302.4,229.1 302.9,228.7 303.4,228.1 303.9,227.7 304.4,227.4 304.9,227.5 305.4,228.2 305.9,229.4 306.4,231.3 306.9,233.7 307.4,236.6 307.9,239.7 308.4,242.8 308.9,245.9 309.4,248.7 309.9,251.2 310.4,253.4 310.9,255.4 311.4,257.1 311.9,258.6 312.4,259.8 312.9,261.0 313.4,262.0 313.9,262.9 314.4,263.8 314.9,264.7 315.4,265.5 315.9,266.2 316.4,266.9 316.9,267.6 317.4,268.2 317.9,268.8 318.4,269.3 318.9,269.8 319.4,270.3 319.9,270.7 320.4,271.1 320.9,271.5 321.4,271.9 321.9,272.2 322.4,272.5 322.9,272.8 323.4,273.1 323.9,273.3 324.4,273.6 324.9,273.8 325.4,274.0 325.9,274.2 326.4,274.3 326.9,274.5 327.4,274.6 327.9,274.8 328.4,274.9 328.9,275.0 329.4,275.2 329.9,275.3 330.4,275.4 330.9,275.5 331.4,275.6 331.9,275.7 332.4,275.8 332.9,275.9 333.4,275.9 333.9,276.0 334.4,276.1 334.9,276.2 335.4,276.2 335.9,276.3 336.4,276.4 336.9,276.5 337.4,276.5 337.9,276.6 338.4,276.7 338.9,276.7 339.4,276.8 339.9,276.8 340.4,276.9 340.9,276.9 341.4,277.0 341.9,277.0 342.4,277.1 342.9,277.1 343.4,277.2 343.9,277.2 344.4,277.2 344.9,277.3 345.4,277.3 345.9,277.4 346.4,277.4 346.9,277.4 347.4,277.5 347.9,277.5 348.4,277.5 348.9,277.6 349.4,277.6 349.9,277.6 350.4,277.7 350.9,277.7 351.4,277.7 351.9,277.8 352.4,277.8 352.9,277.8 353.4,277.9 353.9,277.9 354.4,277.9 354.9,278.0 355.4,278.0 355.9,278.0 356.4,278.0 356.9,278.1 357.4,278.1 357.9,278.1" fill="none" stroke="#ff850f" stroke-width="1.7" stroke-linejoin="round" stroke-linecap="round" />
<path d="M200.9,259.7 201.4,259.7 201.9,259.7 202.4,259.7 202.9,259.7 203.4,259.8 203.9,259.8 204.4,259.8 204.9,259.8 205.4,259.8 205.9,259.9 206.4,259.9 206.9,259.9 207.4,259.9 207.9,259.9 208.4,259.9 208.9,260.0 209.4,260.0 209.9,260.0 210.4,260.0 210.9,260.0 211.4,260.0 211.9,260.1 212.4,260.1 212.9,260.1 213.4,260.1 213.9,260.1 214.4,260.1 214.9,260.2 215.4,260.2 215.9,260.2 216.4,260.3 216.9,260.3 217.4,260.3 217.9,260.3 218.4,260.4 218.9,260.4 219.4,260.4 219.9,260.5 220.4,260.5 220.9,260.5 221.4,260.6 221.9,260.6 222.4,260.6 222.9,260.7 223.4,260.7 223.9,260.7 224.4,260.7 224.9,260.8 225.4,260.8 225.9,260.8 226.4,260.9 226.9,260.9 227.4,260.9 227.9,260.9 228.4,261.0 228.9,261.0 229.4,261.0 229.9,261.1 230.4,261.1 230.9,261.1 231.4,261.2 231.9,261.2 232.4,261.2 232.9,261.3 233.4,261.3 233.9,261.4 234.4,261.4 234.9,261.4 235.4,261.5 235.9,261.5 236.4,261.5 236.9,261.6 237.4,261.6 237.9,261.6 238.4,261.7 238.9,261.7 239.4,261.7 239.9,261.8 240.4,261.8 240.9,261.8 241.4,261.8 241.9,261.9 242.4,261.9 242.9,261.9 243.4,262.0 243.9,262.0 244.4,262.0 244.9,262.0 245.4,262.1 245.9,262.1 246.4,262.1 246.9,262.2 247.4,262.2 247.9,262.3 248.4,262.3 248.9,262.3 249.4,262.4 249.9,262.4 250.4,262.4 250.9,262.5 251.4,262.5 251.9,262.5 252.4,262.6 252.9,262.6 253.4,262.6 253.9,262.7 254.4,262.7 254.9,262.7 255.4,262.8 255.9,262.8 256.4,262.8 256.9,262.8 257.4,262.9 257.9,262.9 258.4,262.9 258.9,263.0 259.4,263.0 259.9,263.0 260.4,263.0 260.9,263.1 261.4,263.1 261.9,263.1 262.4,263.1 262.9,263.2 263.4,263.2 263.9,263.2 264.4,263.2 264.9,263.3 265.4,263.3 265.9,263.3 266.4,263.3 266.9,263.3 267.4,263.3 267.9,263.3 268.4,263.4 268.9,263.4 269.4,263.4 269.9,263.3 270.4,263.3 270.9,263.3 271.4,263.3 271.9,263.2 272.4,263.2 272.9,263.1 273.4,263.1 273.9,263.0 274.4,262.9 274.9,262.8 275.4,262.6 275.9,262.5 276.4,262.3 276.9,262.1 277.4,261.9 277.9,261.6 278.4,261.3 278.9,261.0 279.4,260.7 279.9,260.4 280.4,260.0 280.9,259.7 281.4,259.3 281.9,258.9 282.4,258.5 282.9,258.0 283.4,257.6 283.9,257.1 284.4,256.7 284.9,256.2 285.4,255.6 285.9,255.1 286.4,254.5 286.9,253.8 287.4,253.2 287.9,252.4 288.4,251.7 288.9,250.8 289.4,250.0 289.9,249.0 290.4,248.0 290.9,246.9 291.4,245.8 291.9,244.6 292.4,243.3 292.9,242.1 293.4,240.7 293.9,239.4 294.4,238.1 294.9,236.8 295.4,235.6 295.9,234.4 296.4,233.3 296.9,232.3 297.4,231.5 297.9,230.8 298.4,230.4 298.9,230.1 299.4,230.1 299.9,230.2 300.4,230.6 300.9,231.1 301.4,231.7 301.9,232.5 302.4,233.4 302.9,234.5 303.4,235.6 303.9,236.8 304.4,238.1 304.9,239.5 305.4,240.9 305.9,242.3 306.4,243.8 306.9,245.2 307.4,246.7 307.9,248.2 308.4,249.6 308.9,251.1 309.4,252.5 309.9,253.8 310.4,255.2 310.9,256.5 311.4,257.8 311.9,259.0 312.4,260.1 312.9,261.1 313.4,262.0 313.9,263.0 314.4,263.9 314.9,264.7 315.4,265.5 315.9,266.2 316.4,266.9 316.9,267.6 317.4,268.2 317.9,268.8 318.4,269.3 318.9,269.8 319.4,270.3 319.9,270.7 320.4,271.1 320.9,271.5 321.4,271.9 321.9,272.2 322.4,272.5 322.9,272.8 323.4,273.1 323.9,273.3 324.4,273.6 324.9,273.8 325.4,274.0 325.9,274.2 326.4,274.3 326.9,274.5 327.4,274.6 327.9,274.8 328.4,274.9 328.9,275.0 329.4,275.2 329.9,275.3 330.4,275.4 330.9,275.5 331.4,275.6 331.9,275.7 332.4,275.8 332.9,275.9 333.4,275.9 333.9,276.0 334.4,276.1 334.9,276.2 335.4,276.2 335.9,276.3 336.4,276.4 336.9,276.5 337.4,276.5 337.9,276.6 338.4,276.7 338.9,276.7 339.4,276.8 339.9,276.8 340.4,276.9 340.9,276.9 341.4,277.0 341.9,277.0 342.4,277.1 342.9,277.1 343.4,277.2 343.9,277.2 344.4,277.2 344.9,277.3 345.4,277.3 345.9,277.4 346.4,277.4 346.9,277.4 347.4,277.5 347.9,277.5 348.4,277.5 348.9,277.6 349.4,277.6 349.9,277.6 350.4,277.7 350.9,277.7 351.4,277.7 351.9,277.8 352.4,277.8 352.9,277.8 353.4,277.9 353.9,277.9 354.4,277.9 354.9,278.0 355.4,278.0 355.9,278.0 356.4,278.0 356.9,278.1 357.4,278.1 357.9,278.1" fill="none" stroke="#169616" stroke-width="1.7" stroke-linejoin="round" stroke-linecap="round" />
<path d="M200.9,259.8 201.4,259.9 201.9,259.9 202.4,259.9 202.9,259.9 203.4,259.9 203.9,260.0 204.4,260.0 204.9,260.0 205.4,260.0 205.9,260.0 206.4,260.1 206.9,260.1 207.4,260.1 207.9,260.1 208.4,260.1 208.9,260.2 209.4,260.2 209.9,260.2 210.4,260.2 210.9,260.2 211.4,260.3 211.9,260.3 212.4,260.3 212.9,260.3 213.4,260.3 213.9,260.4 214.4,260.4 214.9,260.4 215.4,260.4 215.9,260.5 216.4,260.5 216.9,260.5 217.4,260.6 217.9,260.6 218.4,260.6 218.9,260.7 219.4,260.7 219.9,260.8 220.4,260.8 220.9,260.8 221.4,260.9 221.9,260.9 222.4,260.9 222.9,261.0 223.4,261.0 223.9,261.1 224.4,261.1 224.9,261.1 225.4,261.2 225.9,261.2 226.4,261.2 226.9,261.3 227.4,261.3 227.9,261.3 228.4,261.4 228.9,261.4 229.4,261.5 229.9,261.5 230.4,261.5 230.9,261.6 231.4,261.6 231.9,261.7 232.4,261.7 232.9,261.8 233.4,261.8 233.9,261.9 234.4,261.9 234.9,262.0 235.4,262.0 235.9,262.1 236.4,262.1 236.9,262.2 237.4,262.2 237.9,262.3 238.4,262.3 238.9,262.4 239.4,262.4 239.9,262.5 240.4,262.5 240.9,262.6 241.4,262.6 241.9,262.7 242.4,262.7 242.9,262.8 243.4,262.8 243.9,262.9 244.4,262.9 244.9,263.0 245.4,263.1 245.9,263.1 246.4,263.2 246.9,263.3 247.4,263.3 247.9,263.4 248.4,263.5 248.9,263.5 249.4,263.6 249.9,263.7 250.4,263.7 250.9,263.8 251.4,263.9 251.9,263.9 252.4,264.0 252.9,264.1 253.4,264.1 253.9,264.2 254.4,264.3 254.9,264.3 255.4,264.4 255.9,264.5 256.4,264.5 256.9,264.6 257.4,264.7 257.9,264.7 258.4,264.8 258.9,264.9 259.4,265.0 259.9,265.0 260.4,265.1 260.9,265.2 261.4,265.2 261.9,265.3 262.4,265.4 262.9,265.5 263.4,265.5 263.9,265.6 264.4,265.7 264.9,265.8 265.4,265.8 265.9,265.9 266.4,266.0 266.9,266.1 267.4,266.1 267.9,266.2 268.4,266.3 268.9,266.3 269.4,266.4 269.9,266.5 270.4,266.6 270.9,266.6 271.4,266.7 271.9,266.8 272.4,266.9 272.9,267.0 273.4,267.0 273.9,267.1 274.4,267.2 274.9,267.3 275.4,267.4 275.9,267.5 276.4,267.5 276.9,267.6 277.4,267.7 277.9,267.8 278.4,267.9 278.9,268.0 279.4,268.0 279.9,268.1 280.4,268.2 280.9,268.3 281.4,268.4 281.9,268.5 282.4,268.6 282.9,268.6 283.4,268.7 283.9,268.8 284.4,268.9 284.9,269.0 285.4,269.1 285.9,269.1 286.4,269.2 286.9,269.3 287.4,269.4 287.9,269.5 288.4,269.6 288.9,269.7 289.4,269.8 289.9,270.0 290.4,270.1 290.9,270.2 291.4,270.3 291.9,270.5 292.4,270.6 292.9,270.7 293.4,270.8 293.9,271.0 294.4,271.1 294.9,271.2 295.4,271.3 295.9,271.5 296.4,271.6 296.9,271.7 297.4,271.8 297.9,271.9 298.4,272.0 298.9,272.1 299.4,272.1 299.9,272.0 300.4,271.8 300.9,271.4 301.4,270.9 301.9,270.0 302.4,268.9 302.9,267.6 303.4,266.1 303.9,264.5 304.4,263.1 304.9,262.1 305.4,261.5 305.9,261.4 306.4,262.0 306.9,263.1 307.4,264.7 307.9,266.4 308.4,268.3 308.9,270.0 309.4,271.6 309.9,272.9 310.4,274.0 310.9,274.8 311.4,275.3 311.9,275.8 312.4,276.0 312.9,276.2 313.4,276.3 313.9,276.3 314.4,276.4 314.9,276.5 315.4,276.5 315.9,276.6 316.4,276.6 316.9,276.7 317.4,276.7 317.9,276.7 318.4,276.8 318.9,276.8 319.4,276.9 319.9,276.9 320.4,277.0 320.9,277.0 321.4,277.1 321.9,277.1 322.4,277.2 322.9,277.2 323.4,277.3 323.9,277.3 324.4,277.3 324.9,277.4 325.4,277.4 325.9,277.4 326.4,277.5 326.9,277.5 327.4,277.5 327.9,277.6 328.4,277.6 328.9,277.6 329.4,277.6 329.9,277.7 330.4,277.7 330.9,277.7 331.4,277.7 331.9,277.8 332.4,277.8 332.9,277.8 333.4,277.8 333.9,277.9 334.4,277.9 334.9,277.9 335.4,278.0 335.9,278.0 336.4,278.0 336.9,278.0 337.4,278.1 337.9,278.1 338.4,278.1 338.9,278.1 339.4,278.2 339.9,278.2 340.4,278.2 340.9,278.2 341.4,278.2 341.9,278.3 342.4,278.3 342.9,278.3 343.4,278.3 343.9,278.3 344.4,278.3 344.9,278.4 345.4,278.4 345.9,278.4 346.4,278.4 346.9,278.4 347.4,278.4 347.9,278.5 348.4,278.5 348.9,278.5 349.4,278.5 349.9,278.5 350.4,278.5 350.9,278.6 351.4,278.6 351.9,278.6 352.4,278.6 352.9,278.6 353.4,278.6 353.9,278.6 354.4,278.7 354.9,278.7 355.4,278.7 355.9,278.7 356.4,278.7 356.9,278.7 357.4,278.8 357.9,278.8" fill="none" stroke="#ff1fe0" stroke-width="1.6" stroke-linejoin="round" stroke-linecap="round" />
<path d="M218.4,260.0 218.9,259.9 219.4,259.7 219.9,259.6 220.4,259.4 220.9,259.2 221.4,259.0 221.9,258.7 222.4,258.5 222.9,258.1 223.4,257.8 223.9,257.4 224.4,256.9 224.9,256.5 225.4,256.0 225.9,255.4 226.4,254.8 226.9,254.2 227.4,253.6 227.9,252.9 228.4,252.3 228.9,251.6 229.4,250.9 229.9,250.3 230.4,249.6 230.9,249.0 231.4,248.4 231.9,247.9 232.4,247.4 232.9,246.9 233.4,246.5 233.9,246.2 234.4,246.0 234.9,245.8 235.4,245.7 235.9,245.7 236.4,245.8 236.9,245.9 237.4,246.2 237.9,246.5 238.4,246.9 238.9,247.3 239.4,247.9 239.9,248.4 240.4,249.1 240.9,249.8 241.4,250.5 241.9,251.2 242.4,251.9 242.9,252.7 243.4,253.5 243.9,254.2 244.4,255.0 244.9,255.7 245.4,256.4 245.9,257.1 246.4,257.7 246.9,258.4 247.4,259.0 247.9,259.5 248.4,260.0 248.9,260.5 249.4,261.0 249.9,261.4 250.4,261.7 250.9,262.1 251.4,262.4 251.9,262.7 252.4,262.9 252.9,263.2 253.4,263.4 253.9,263.6" fill="none" stroke="#1f1fff" stroke-width="1.7" stroke-linejoin="round" stroke-linecap="round" />
<path d="M286.4,269.2 286.9,269.3 287.4,269.4 287.9,269.5 288.4,269.6 288.9,269.7 289.4,269.8 289.9,270.0 290.4,270.1 290.9,270.2 291.4,270.3 291.9,270.5 292.4,270.6 292.9,270.7 293.4,270.8 293.9,271.0 294.4,271.1 294.9,271.2 295.4,271.4 295.9,271.5 296.4,271.6 296.9,271.7 297.4,271.9 297.9,272.0 298.4,272.1 298.9,272.2 299.4,272.4 299.9,272.5 300.4,272.6 300.9,272.8 301.4,272.9 301.9,273.1 302.4,273.2 302.9,273.4 303.4,273.5 303.9,273.7 304.4,273.9 304.9,274.0 305.4,274.2 305.9,274.3 306.4,274.5 306.9,274.6 307.4,274.8 307.9,274.9 308.4,275.1 308.9,275.2 309.4,275.4 309.9,275.6 310.4,275.7 310.9,275.9 311.4,276.0 311.9,276.2 312.4,276.2 312.9,276.3 313.4,276.3 313.9,276.4 314.4,276.4 314.9,276.5 315.4,276.5 315.9,276.6" fill="none" stroke="#1f1fff" stroke-width="1.5" stroke-linejoin="round" stroke-linecap="round" />
<path d="M298.4,272.0 298.9,272.1 299.4,272.1 299.9,272.0 300.4,271.8 300.9,271.4 301.4,270.9 301.9,270.0 302.4,268.9 302.9,267.6 303.4,266.1 303.9,264.5 304.4,263.1 304.9,262.1 305.4,261.5 305.9,261.4 306.4,262.0 306.9,263.1 307.4,264.7 307.9,266.4 308.4,268.3 308.9,270.0 309.4,271.6 309.9,272.9 310.4,274.0 310.9,274.8 311.4,275.3 311.9,275.8 312.4,276.0 312.9,276.2 313.4,276.3 313.9,276.3" fill="none" stroke="#ff1fe0" stroke-width="1.6" stroke-linejoin="round" stroke-linecap="round" />
<rect x="200.2" y="174.4" width="158.40000000000003" height="115.99999999999997" fill="none" stroke="#111" stroke-width="1.4"/>
<line x1="200.2" y1="224.8" x2="358.6" y2="224.8" stroke="#111" stroke-width="1.4"/>
<path d="M199.80,291.09999999999997 v1.6 M214.05,291.09999999999997 v1.6 M228.30,291.09999999999997 v1.6 M242.55,291.09999999999997 v1.6 M256.80,291.09999999999997 v1.6 M271.05,291.09999999999997 v1.6 M285.30,291.09999999999997 v1.6 M299.55,291.09999999999997 v1.6 M313.80,291.09999999999997 v1.6 M328.05,291.09999999999997 v1.6 M342.30,291.09999999999997 v1.6 M356.55,291.09999999999997 v1.6" stroke="#111" stroke-width="1.1199999999999999" fill="none"/>
<text x="181.2" y="172.2" font-size="13.5" text-anchor="start" font-weight="bold" stroke="#111" stroke-width="0.35" >(d)</text>
<text x="199.6" y="300.7" font-size="8" text-anchor="middle" font-weight="bold" stroke="#111" stroke-width="0.3" >660</text>
<text x="228.04999999999998" y="300.7" font-size="8" text-anchor="middle" font-weight="bold" stroke="#111" stroke-width="0.3" >655</text>
<text x="256.5" y="300.7" font-size="8" text-anchor="middle" font-weight="bold" stroke="#111" stroke-width="0.3" >650</text>
<text x="284.95" y="300.7" font-size="8" text-anchor="middle" font-weight="bold" stroke="#111" stroke-width="0.3" >645</text>
<text x="313.4" y="300.7" font-size="8" text-anchor="middle" font-weight="bold" stroke="#111" stroke-width="0.3" >640</text>
<text x="341.85" y="300.7" font-size="8" text-anchor="middle" font-weight="bold" stroke="#111" stroke-width="0.3" >635</text>
<text x="280.5" y="311.2" font-size="8.2" text-anchor="middle" font-weight="bold" stroke="#111" stroke-width="0.25" >Binding energy (eV)</text>
<text x="0" y="0" font-size="8" font-weight="bold" text-anchor="middle" stroke="#111" stroke-width="0.2" transform="translate(189.4,231.3) rotate(-90)" dominant-baseline="central">Intensity (a.u.)</text>
<text x="202.8" y="180.1" font-size="5.0" text-anchor="start" font-weight="bold" stroke="#111" stroke-width="0.14" >1% LiF@NCM</text>
<text x="202.8" y="186.5" font-size="5.0" text-anchor="start" font-weight="bold" stroke="#111" stroke-width="0.14" >Mn 2p</text>
<text x="226.8" y="190.6" font-size="5.6" text-anchor="start" font-weight="bold" stroke="#111" stroke-width="0.1" >Mn 2p<tspan font-size="3.47" dy="1.3">1/2</tspan></text>
<text x="280.9" y="184.4" font-size="4.6" text-anchor="start" font-weight="bold" stroke="#111" stroke-width="0.08" >Mn<tspan font-size="2.53" dy="-1.8">4+</tspan></text>
<text x="305.8" y="181.4" font-size="5.6" text-anchor="start" font-weight="bold" stroke="#111" stroke-width="0.1" >Mn 2p<tspan font-size="3.47" dy="1.3">3/2</tspan></text>
<text x="311.2" y="206.6" font-size="4.6" text-anchor="start" font-weight="bold" stroke="#111" stroke-width="0.08" >Mn<tspan font-size="2.53" dy="-1.8">3+</tspan></text>
<text x="201.8" y="232.5" font-size="5.0" text-anchor="start" font-weight="bold" stroke="#111" stroke-width="0.14" >0% LiF@NCM</text>
<text x="201.8" y="239.2" font-size="5.0" text-anchor="start" font-weight="bold" stroke="#111" stroke-width="0.14" >Mn 2p</text>
<text x="227.8" y="241.7" font-size="5.6" text-anchor="start" font-weight="bold" stroke="#111" stroke-width="0.1" >Mn 2p<tspan font-size="3.47" dy="1.3">1/2</tspan></text>
<text x="283.1" y="234.8" font-size="4.6" text-anchor="start" font-weight="bold" stroke="#111" stroke-width="0.08" >Mn<tspan font-size="2.53" dy="-1.8">4+</tspan></text>
<text x="309.9" y="234.7" font-size="5.6" text-anchor="start" font-weight="bold" stroke="#111" stroke-width="0.1" >Mn 2p<tspan font-size="3.47" dy="1.3">3/2</tspan></text>
<text x="315" y="258.5" font-size="4.6" text-anchor="start" font-weight="bold" stroke="#111" stroke-width="0.08" >Mn<tspan font-size="2.53" dy="-1.8">3+</tspan></text>
<path d="M388.2,201.7 388.7,202.6 389.2,201.3 389.7,201.9 390.2,201.0 390.7,202.7 391.2,201.3 391.7,200.6 392.2,201.6 392.7,201.6 393.2,202.6 393.7,201.5 394.2,201.7 394.7,202.0 395.2,202.5 395.7,201.6 396.2,202.2 396.7,201.9 397.2,201.5 397.7,201.7 398.2,201.6 398.7,201.1 399.2,202.2 399.7,200.8 400.2,202.1 400.7,201.9 401.2,201.4 401.7,201.0 402.2,201.2 402.7,201.5 403.2,201.6 403.7,201.4 404.2,201.7 404.7,200.8 405.2,201.2 405.7,200.3 406.2,201.4 406.7,201.0 407.2,200.7 407.7,201.5 408.2,201.2 408.7,199.4 409.2,200.8 409.7,200.0 410.2,201.3 410.7,202.0 411.2,200.5 411.7,200.7 412.2,200.6 412.7,200.9 413.2,201.1 413.7,201.4 414.2,200.3 414.7,201.6 415.2,200.4 415.7,201.0 416.2,201.5 416.7,201.4 417.2,200.6 417.7,200.8 418.2,201.0 418.7,201.3 419.2,201.9 419.7,200.8 420.2,201.8 420.7,202.0 421.2,202.0 421.7,202.1 422.2,202.7 422.7,202.3 423.2,202.6 423.7,202.6 424.2,203.3 424.7,201.6 425.2,203.3 425.7,202.6 426.2,202.7 426.7,202.5 427.2,202.1 427.7,203.0 428.2,202.9 428.7,203.6 429.2,202.7 429.7,204.2 430.2,203.8 430.7,203.6 431.2,203.4 431.7,203.5 432.2,203.4 432.7,203.7 433.2,204.1 433.7,204.0 434.2,203.5 434.7,204.1 435.2,203.8 435.7,204.4 436.2,205.2 436.7,204.6 437.2,204.1 437.7,203.3 438.2,203.4 438.7,203.1 439.2,204.2 439.7,203.3 440.2,203.5 440.7,203.0 441.2,203.2 441.7,203.7 442.2,202.5 442.7,202.6 443.2,202.3 443.7,203.1 444.2,202.2 444.7,202.1 445.2,201.9 445.7,201.8 446.2,202.6 446.7,203.3 447.2,201.0 447.7,201.4 448.2,200.2 448.7,198.5 449.2,197.8 449.7,196.6 450.2,195.1 450.7,195.2 451.2,192.3 451.7,192.8 452.2,192.7 452.7,192.6 453.2,193.9 453.7,195.4 454.2,196.4 454.7,197.9 455.2,199.4 455.7,199.3 456.2,202.2 456.7,203.5 457.2,203.7 457.7,204.3 458.2,203.6 458.7,204.7 459.2,204.7 459.7,205.0 460.2,206.0 460.7,205.3 461.2,205.8 461.7,205.0 462.2,206.0 462.7,206.2 463.2,205.8 463.7,205.9 464.2,207.3 464.7,205.7 465.2,205.8 465.7,206.0 466.2,206.9 466.7,207.4 467.2,206.4 467.7,205.8 468.2,205.8 468.7,206.4 469.2,205.2 469.7,206.2 470.2,206.0 470.7,205.1 471.2,205.3 471.7,205.3 472.2,205.6 472.7,204.4 473.2,205.6 473.7,205.0 474.2,205.0 474.7,205.6 475.2,205.7 475.7,205.6 476.2,205.6 476.7,206.1 477.2,207.6 477.7,208.0 478.2,207.5 478.7,207.9 479.2,207.2 479.7,207.5 480.2,207.8 480.7,207.1 481.2,207.2 481.7,207.8 482.2,207.6 482.7,207.3 483.2,208.1 483.7,207.8 484.2,208.4 484.7,207.9 485.2,207.8 485.7,208.1 486.2,207.9 486.7,207.7 487.2,207.8 487.7,208.4 488.2,208.4 488.7,208.7 489.2,207.3 489.7,207.9 490.2,207.9 490.7,208.2 491.2,207.9 491.7,207.8 492.2,208.4 492.7,208.1 493.2,207.3 493.7,208.5 494.2,208.2 494.7,207.3 495.2,207.9 495.7,206.9 496.2,207.6 496.7,206.7 497.2,206.1 497.7,206.0 498.2,205.5 498.7,205.7 499.2,205.4 499.7,205.1 500.2,204.5 500.7,202.7 501.2,204.3 501.7,203.1 502.2,203.9 502.7,203.9 503.2,203.1 503.7,202.1 504.2,201.4 504.7,200.4 505.2,198.7 505.7,196.9 506.2,194.4 506.7,192.7 507.2,189.0 507.7,186.1 508.2,182.3 508.7,180.0 509.2,178.6 509.7,179.3 510.2,181.6 510.7,184.5 511.2,187.9 511.7,191.7 512.2,196.5 512.7,198.7 513.2,201.4 513.7,204.4 514.2,205.8 514.7,206.8 515.2,207.2 515.7,209.2 516.2,208.6 516.7,208.9 517.2,208.6 517.7,208.1 518.2,208.2 518.7,209.2 519.2,209.3 519.7,209.1 520.2,208.7 520.7,208.7 521.2,209.4 521.7,208.9 522.2,210.2 522.7,210.5 523.2,211.4 523.7,210.5 524.2,209.9 524.7,209.8 525.2,208.6 525.7,210.1 526.2,210.4 526.7,211.1 527.2,211.0 527.7,211.0 528.2,210.9 528.7,211.2 529.2,211.6 529.7,210.4 530.2,210.8 530.7,210.4 531.2,211.9 531.7,211.8 532.2,211.6 532.7,210.7 533.2,211.4 533.7,211.3 534.2,211.5 534.7,211.4 535.2,211.8 535.7,211.4 536.2,212.0 536.7,211.8 537.2,211.6 537.7,211.7 538.2,211.6 538.7,212.2 539.2,211.7 539.7,212.1" fill="none" stroke="#3a3a3a" stroke-width="0.9" stroke-linejoin="round" stroke-linecap="round" />
<line x1="387.6" y1="201.60" x2="540.5" y2="212.20" stroke="#222" stroke-width="0.9"/>
<path d="M388.2,201.5 388.7,201.6 389.2,201.6 389.7,201.6 390.2,201.6 390.7,201.6 391.2,201.6 391.7,201.7 392.2,201.7 392.7,201.7 393.2,201.7 393.7,201.7 394.2,201.7 394.7,201.7 395.2,201.7 395.7,201.7 396.2,201.7 396.7,201.7 397.2,201.6 397.7,201.6 398.2,201.6 398.7,201.6 399.2,201.6 399.7,201.5 400.2,201.5 400.7,201.5 401.2,201.4 401.7,201.4 402.2,201.3 402.7,201.3 403.2,201.3 403.7,201.2 404.2,201.2 404.7,201.1 405.2,201.1 405.7,201.0 406.2,201.0 406.7,201.0 407.2,200.9 407.7,200.9 408.2,200.8 408.7,200.8 409.2,200.8 409.7,200.8 410.2,200.7 410.7,200.7 411.2,200.7 411.7,200.7 412.2,200.7 412.7,200.7 413.2,200.7 413.7,200.7 414.2,200.8 414.7,200.8 415.2,200.8 415.7,200.9 416.2,200.9 416.7,201.0 417.2,201.1 417.7,201.1 418.2,201.2 418.7,201.3 419.2,201.4 419.7,201.5 420.2,201.6 420.7,201.7 421.2,201.8 421.7,201.9 422.2,202.0 422.7,202.1 423.2,202.2 423.7,202.3 424.2,202.4 424.7,202.5 425.2,202.6 425.7,202.7 426.2,202.8 426.7,202.9 427.2,203.0 427.7,203.1 428.2,203.2 428.7,203.3 429.2,203.4 429.7,203.5 430.2,203.6 430.7,203.7 431.2,203.8 431.7,203.9 432.2,203.9 432.7,204.0 433.2,204.1 433.7,204.1 434.2,204.2 434.7,204.3 435.2,204.3 435.7,204.4 436.2,204.4 436.7,204.5 437.2,204.5 437.7,204.5 438.2,204.6 438.7,204.6 439.2,204.6 439.7,204.6 440.2,204.6 440.7,204.6 441.2,204.6 441.7,204.6 442.2,204.6 442.7,204.6 443.2,204.5 443.7,204.5 444.2,204.4 444.7,204.2 445.2,204.0 445.7,203.7 446.2,203.3 446.7,202.8 447.2,202.2 447.7,201.4 448.2,200.5 448.7,199.4 449.2,198.2 449.7,196.9 450.2,195.5 450.7,194.3 451.2,193.3 451.7,192.7 452.2,192.5 452.7,192.9 453.2,193.8 453.7,195.0 454.2,196.3 454.7,197.7 455.2,199.1 455.7,200.3 456.2,201.4 456.7,202.4 457.2,203.2 457.7,203.8 458.2,204.3 458.7,204.7 459.2,205.1 459.7,205.3 460.2,205.5 460.7,205.7 461.2,205.8 461.7,205.9 462.2,206.0 462.7,206.1 463.2,206.2 463.7,206.3 464.2,206.3 464.7,206.3 465.2,206.4 465.7,206.4 466.2,206.3 466.7,206.3 467.2,206.2 467.7,206.1 468.2,206.0 468.7,205.8 469.2,205.6 469.7,205.5 470.2,205.3 470.7,205.1 471.2,205.0 471.7,204.9 472.2,204.9 472.7,204.9 473.2,205.0 473.7,205.1 474.2,205.3 474.7,205.6 475.2,205.8 475.7,206.1 476.2,206.4 476.7,206.6 477.2,206.8 477.7,207.0 478.2,207.2 478.7,207.3 479.2,207.4 479.7,207.5" fill="none" stroke="#ff850f" stroke-width="1.3" stroke-linejoin="round" stroke-linecap="round" />
<path d="M388.2,201.6 388.7,201.7 389.2,201.7 389.7,201.7 390.2,201.8 390.7,201.8 391.2,201.8 391.7,201.9 392.2,201.9 392.7,201.9 393.2,202.0 393.7,202.0 394.2,202.0 394.7,202.1 395.2,202.1 395.7,202.1 396.2,202.2 396.7,202.2 397.2,202.2 397.7,202.3 398.2,202.3 398.7,202.4 399.2,202.4 399.7,202.4 400.2,202.5 400.7,202.5 401.2,202.5 401.7,202.6 402.2,202.6 402.7,202.6 403.2,202.7 403.7,202.7 404.2,202.7 404.7,202.8 405.2,202.8 405.7,202.8 406.2,202.9 406.7,202.9 407.2,202.9 407.7,203.0 408.2,203.0 408.7,203.0 409.2,203.1 409.7,203.1 410.2,203.1 410.7,203.2 411.2,203.2 411.7,203.2 412.2,203.3 412.7,203.3 413.2,203.4 413.7,203.4 414.2,203.4 414.7,203.5 415.2,203.5 415.7,203.5 416.2,203.6 416.7,203.6 417.2,203.6 417.7,203.7 418.2,203.7 418.7,203.7 419.2,203.8 419.7,203.8 420.2,203.8 420.7,203.9 421.2,203.9 421.7,203.9 422.2,204.0 422.7,204.0 423.2,204.0 423.7,204.1 424.2,204.1 424.7,204.1 425.2,204.2 425.7,204.2 426.2,204.2 426.7,204.3 427.2,204.3 427.7,204.4 428.2,204.4 428.7,204.4 429.2,204.5 429.7,204.5 430.2,204.5 430.7,204.6 431.2,204.6 431.7,204.6 432.2,204.7 432.7,204.7 433.2,204.7 433.7,204.8 434.2,204.8 434.7,204.8 435.2,204.9 435.7,204.9 436.2,204.9 436.7,205.0 437.2,205.0 437.7,205.0 438.2,205.1 438.7,205.1 439.2,205.1 439.7,205.2 440.2,205.2 440.7,205.2 441.2,205.3 441.7,205.3 442.2,205.3 442.7,205.4 443.2,205.4 443.7,205.4 444.2,205.5 444.7,205.5 445.2,205.5 445.7,205.6 446.2,205.6 446.7,205.6 447.2,205.7 447.7,205.7 448.2,205.7 448.7,205.8 449.2,205.8 449.7,205.8 450.2,205.9 450.7,205.9 451.2,206.0 451.7,206.0 452.2,206.0 452.7,206.1 453.2,206.1 453.7,206.1 454.2,206.2 454.7,206.2 455.2,206.2 455.7,206.3 456.2,206.3 456.7,206.3 457.2,206.4 457.7,206.4 458.2,206.4 458.7,206.5 459.2,206.5 459.7,206.5 460.2,206.6 460.7,206.6 461.2,206.6 461.7,206.6 462.2,206.7 462.7,206.7 463.2,206.7 463.7,206.8 464.2,206.8 464.7,206.8 465.2,206.9 465.7,206.9 466.2,206.9 466.7,207.0 467.2,207.0 467.7,207.0 468.2,207.1 468.7,207.1 469.2,207.1 469.7,207.2 470.2,207.2 470.7,207.2 471.2,207.3 471.7,207.3 472.2,207.3 472.7,207.4 473.2,207.4 473.7,207.4 474.2,207.4 474.7,207.5 475.2,207.5 475.7,207.5 476.2,207.6 476.7,207.6 477.2,207.6 477.7,207.6 478.2,207.7 478.7,207.7 479.2,207.7 479.7,207.8 480.2,207.8 480.7,207.8 481.2,207.8 481.7,207.9 482.2,207.9 482.7,207.9 483.2,207.9 483.7,208.0 484.2,208.0 484.7,208.0 485.2,208.0 485.7,208.1 486.2,208.1 486.7,208.1 487.2,208.1 487.7,208.1 488.2,208.1 488.7,208.2 489.2,208.2 489.7,208.2 490.2,208.2 490.7,208.2 491.2,208.2 491.7,208.2 492.2,208.2 492.7,208.2 493.2,208.2 493.7,208.2 494.2,208.2 494.7,208.1 495.2,208.1 495.7,208.1 496.2,208.0 496.7,208.0 497.2,207.9 497.7,207.9 498.2,207.8 498.7,207.7 499.2,207.6 499.7,207.4 500.2,207.2 500.7,207.0 501.2,206.8 501.7,206.5 502.2,206.1 502.7,205.6 503.2,205.0 503.7,204.2 504.2,203.2 504.7,201.9 505.2,200.2 505.7,198.2 506.2,195.7 506.7,192.8 507.2,189.5 507.7,186.0 508.2,182.6 508.7,179.9 509.2,178.5 509.7,178.7 510.2,180.5 510.7,183.4 511.2,186.9 511.7,190.5 512.2,193.8 512.7,196.7 513.2,199.1 513.7,201.2 514.2,202.8 514.7,204.2 515.2,205.2 515.7,206.0 516.2,206.7 516.7,207.2 517.2,207.6 517.7,208.0 518.2,208.3 518.7,208.6 519.2,208.8 519.7,209.0 520.2,209.2 520.7,209.4 521.2,209.5 521.7,209.6 522.2,209.8 522.7,209.9 523.2,210.0 523.7,210.1 524.2,210.2 524.7,210.3 525.2,210.4 525.7,210.4 526.2,210.5 526.7,210.6 527.2,210.7 527.7,210.7 528.2,210.8 528.7,210.9 529.2,210.9 529.7,211.0 530.2,211.0 530.7,211.1 531.2,211.1 531.7,211.2 532.2,211.2 532.7,211.3 533.2,211.3 533.7,211.4 534.2,211.4 534.7,211.5 535.2,211.5 535.7,211.6 536.2,211.6 536.7,211.7 537.2,211.7 537.7,211.8 538.2,211.8 538.7,211.8 539.2,211.9 539.7,211.9" fill="none" stroke="#1f1fff" stroke-width="1.3" stroke-linejoin="round" stroke-linecap="round" />
<path d="M392.2,201.7 392.7,201.7 393.2,201.7 393.7,201.7 394.2,201.7 394.7,201.7 395.2,201.7 395.7,201.7 396.2,201.7 396.7,201.7 397.2,201.7 397.7,201.6 398.2,201.6 398.7,201.6 399.2,201.6 399.7,201.5 400.2,201.5 400.7,201.5 401.2,201.4 401.7,201.4 402.2,201.4 402.7,201.3 403.2,201.3 403.7,201.2 404.2,201.2 404.7,201.1 405.2,201.1 405.7,201.1 406.2,201.0 406.7,201.0 407.2,200.9 407.7,200.9 408.2,200.9 408.7,200.8 409.2,200.8 409.7,200.8 410.2,200.8 410.7,200.7 411.2,200.7 411.7,200.7 412.2,200.7 412.7,200.7 413.2,200.7 413.7,200.8 414.2,200.8 414.7,200.8 415.2,200.9 415.7,200.9 416.2,201.0 416.7,201.0 417.2,201.1 417.7,201.2 418.2,201.2 418.7,201.3 419.2,201.4 419.7,201.5 420.2,201.6 420.7,201.7 421.2,201.8 421.7,201.9 422.2,202.0 422.7,202.1 423.2,202.2 423.7,202.3 424.2,202.4 424.7,202.5 425.2,202.6 425.7,202.8 426.2,202.9 426.7,203.0 427.2,203.1 427.7,203.2 428.2,203.3 428.7,203.4 429.2,203.5 429.7,203.6 430.2,203.6 430.7,203.7 431.2,203.8 431.7,203.9 432.2,204.0 432.7,204.0 433.2,204.1 433.7,204.2 434.2,204.2 434.7,204.3 435.2,204.4 435.7,204.4 436.2,204.5 436.7,204.5 437.2,204.5 437.7,204.6 438.2,204.6 438.7,204.6 439.2,204.7 439.7,204.7 440.2,204.7 440.7,204.7 441.2,204.7 441.7,204.7 442.2,204.7 442.7,204.6 443.2,204.6 443.7,204.5 444.2,204.4 444.7,204.3 445.2,204.0 445.7,203.8 446.2,203.4 446.7,202.9 447.2,202.3 447.7,201.5 448.2,200.5 448.7,199.4 449.2,198.2 449.7,196.9 450.2,195.6 450.7,194.3 451.2,193.3 451.7,192.7 452.2,192.6 452.7,193.0 453.2,193.9 453.7,195.0 454.2,196.4 454.7,197.8 455.2,199.2 455.7,200.4 456.2,201.5 456.7,202.5 457.2,203.3 457.7,203.9 458.2,204.4 458.7,204.8 459.2,205.1 459.7,205.4 460.2,205.6 460.7,205.8 461.2,205.9 461.7,206.0 462.2,206.1 462.7,206.2 463.2,206.3 463.7,206.4 464.2,206.5 464.7,206.5 465.2,206.6 465.7,206.6 466.2,206.7 466.7,206.8 467.2,206.8 467.7,206.9" fill="none" stroke="#ff1fe0" stroke-width="1.3" stroke-linejoin="round" stroke-linecap="round" />
<path d="M388.2,263.0 388.7,262.5 389.2,263.8 389.7,262.8 390.2,263.7 390.7,263.6 391.2,262.6 391.7,263.0 392.2,263.3 392.7,263.1 393.2,263.0 393.7,264.0 394.2,263.5 394.7,263.8 395.2,263.4 395.7,263.8 396.2,263.3 396.7,263.6 397.2,263.9 397.7,263.7 398.2,263.4 398.7,263.1 399.2,263.7 399.7,263.8 400.2,263.4 400.7,263.1 401.2,263.8 401.7,264.7 402.2,263.2 402.7,263.5 403.2,263.5 403.7,262.0 404.2,263.2 404.7,262.8 405.2,263.7 405.7,262.9 406.2,262.5 406.7,262.8 407.2,262.9 407.7,262.5 408.2,262.6 408.7,261.9 409.2,262.4 409.7,262.9 410.2,263.4 410.7,262.8 411.2,262.5 411.7,262.9 412.2,262.8 412.7,263.1 413.2,262.8 413.7,262.2 414.2,262.4 414.7,262.4 415.2,262.4 415.7,262.4 416.2,262.0 416.7,261.4 417.2,262.1 417.7,261.5 418.2,262.7 418.7,262.7 419.2,262.0 419.7,263.3 420.2,263.5 420.7,263.2 421.2,264.1 421.7,264.4 422.2,263.0 422.7,264.2 423.2,264.1 423.7,264.2 424.2,264.6 424.7,264.0 425.2,264.2 425.7,264.2 426.2,264.5 426.7,264.9 427.2,264.4 427.7,264.8 428.2,265.8 428.7,265.6 429.2,266.0 429.7,265.0 430.2,265.7 430.7,266.0 431.2,266.4 431.7,266.2 432.2,267.1 432.7,266.8 433.2,266.9 433.7,267.0 434.2,267.5 434.7,266.9 435.2,267.8 435.7,267.5 436.2,267.4 436.7,267.3 437.2,267.5 437.7,267.7 438.2,267.6 438.7,267.1 439.2,267.2 439.7,266.6 440.2,266.9 440.7,266.1 441.2,264.8 441.7,266.3 442.2,265.6 442.7,264.8 443.2,265.3 443.7,264.9 444.2,266.4 444.7,265.7 445.2,264.7 445.7,265.7 446.2,265.1 446.7,266.0 447.2,264.1 447.7,262.9 448.2,263.2 448.7,261.9 449.2,260.5 449.7,258.1 450.2,257.7 450.7,256.4 451.2,252.8 451.7,252.6 452.2,250.2 452.7,250.8 453.2,249.5 453.7,249.6 454.2,251.3 454.7,252.6 455.2,253.9 455.7,256.6 456.2,258.0 456.7,259.3 457.2,262.9 457.7,263.3 458.2,264.5 458.7,266.1 459.2,266.1 459.7,267.0 460.2,268.0 460.7,268.5 461.2,269.2 461.7,270.0 462.2,269.5 462.7,270.2 463.2,270.4 463.7,269.7 464.2,270.5 464.7,270.0 465.2,271.1 465.7,270.8 466.2,270.6 466.7,269.8 467.2,270.4 467.7,269.8 468.2,270.4 468.7,269.7 469.2,269.0 469.7,269.6 470.2,269.1 470.7,268.1 471.2,268.7 471.7,267.7 472.2,267.6 472.7,267.7 473.2,267.4 473.7,267.7 474.2,268.1 474.7,269.4 475.2,269.8 475.7,269.4 476.2,270.8 476.7,270.4 477.2,271.1 477.7,271.7 478.2,271.7 478.7,273.1 479.2,272.2 479.7,271.7 480.2,273.1 480.7,272.3 481.2,272.5 481.7,271.2 482.2,273.3 482.7,273.2 483.2,273.2 483.7,273.4 484.2,273.8 484.7,272.9 485.2,273.4 485.7,272.6 486.2,272.8 486.7,273.6 487.2,273.2 487.7,272.4 488.2,273.3 488.7,273.0 489.2,272.7 489.7,273.3 490.2,272.9 490.7,272.3 491.2,272.5 491.7,273.9 492.2,272.2 492.7,273.1 493.2,273.2 493.7,273.2 494.2,272.1 494.7,272.5 495.2,272.6 495.7,272.7 496.2,271.7 496.7,271.2 497.2,271.9 497.7,271.5 498.2,270.6 498.7,269.5 499.2,269.3 499.7,268.4 500.2,267.9 500.7,265.9 501.2,265.6 501.7,264.5 502.2,263.0 502.7,262.6 503.2,261.4 503.7,260.0 504.2,259.1 504.7,256.8 505.2,255.8 505.7,254.0 506.2,251.5 506.7,249.0 507.2,244.4 507.7,240.3 508.2,236.7 508.7,232.2 509.2,228.8 509.7,224.8 510.2,222.5 510.7,223.9 511.2,225.9 511.7,229.9 512.2,237.4 512.7,241.9 513.2,247.7 513.7,252.8 514.2,258.1 514.7,261.4 515.2,265.3 515.7,267.1 516.2,269.3 516.7,272.6 517.2,274.0 517.7,274.6 518.2,275.1 518.7,275.6 519.2,275.5 519.7,276.8 520.2,276.6 520.7,276.6 521.2,276.7 521.7,277.2 522.2,277.0 522.7,277.2 523.2,276.4 523.7,277.3 524.2,278.1 524.7,276.8 525.2,277.0 525.7,277.5 526.2,277.5 526.7,277.4 527.2,276.3 527.7,277.4 528.2,276.6 528.7,276.8 529.2,277.6 529.7,277.3 530.2,277.9 530.7,279.2 531.2,278.1 531.7,278.2 532.2,277.5 532.7,277.7 533.2,277.6 533.7,278.0 534.2,277.8 534.7,278.1 535.2,278.4 535.7,278.1 536.2,278.0 536.7,278.1 537.2,279.1 537.7,279.0 538.2,279.5 538.7,279.6 539.2,279.0 539.7,279.6" fill="none" stroke="#3a3a3a" stroke-width="0.9" stroke-linejoin="round" stroke-linecap="round" />
<line x1="387.6" y1="263.30" x2="540.5" y2="280.00" stroke="#2a2a44" stroke-width="1"/>
<path d="M388.2,263.2 388.7,263.3 389.2,263.3 389.7,263.4 390.2,263.4 390.7,263.4 391.2,263.5 391.7,263.5 392.2,263.5 392.7,263.6 393.2,263.6 393.7,263.6 394.2,263.6 394.7,263.6 395.2,263.6 395.7,263.7 396.2,263.7 396.7,263.7 397.2,263.7 397.7,263.7 398.2,263.6 398.7,263.6 399.2,263.6 399.7,263.6 400.2,263.6 400.7,263.5 401.2,263.5 401.7,263.4 402.2,263.4 402.7,263.3 403.2,263.3 403.7,263.2 404.2,263.2 404.7,263.1 405.2,263.1 405.7,263.0 406.2,262.9 406.7,262.9 407.2,262.8 407.7,262.7 408.2,262.7 408.7,262.6 409.2,262.6 409.7,262.5 410.2,262.4 410.7,262.4 411.2,262.4 411.7,262.3 412.2,262.3 412.7,262.3 413.2,262.3 413.7,262.3 414.2,262.3 414.7,262.3 415.2,262.3 415.7,262.3 416.2,262.4 416.7,262.4 417.2,262.5 417.7,262.5 418.2,262.6 418.7,262.7 419.2,262.8 419.7,262.9 420.2,263.0 420.7,263.2 421.2,263.3 421.7,263.4 422.2,263.6 422.7,263.7 423.2,263.9 423.7,264.0 424.2,264.2 424.7,264.3 425.2,264.5 425.7,264.7 426.2,264.8 426.7,265.0 427.2,265.2 427.7,265.3 428.2,265.5 428.7,265.6 429.2,265.8 429.7,266.0 430.2,266.1 430.7,266.2 431.2,266.4 431.7,266.5 432.2,266.7 432.7,266.8 433.2,266.9 433.7,267.0 434.2,267.1 434.7,267.2 435.2,267.3 435.7,267.4 436.2,267.5 436.7,267.6 437.2,267.7 437.7,267.7 438.2,267.8 438.7,267.9 439.2,267.9 439.7,268.0 440.2,268.0 440.7,268.0 441.2,268.0 441.7,268.0 442.2,268.0 442.7,268.0 443.2,268.0 443.7,267.9 444.2,267.8 444.7,267.6 445.2,267.4 445.7,267.1 446.2,266.8 446.7,266.3 447.2,265.6 447.7,264.8 448.2,263.7 448.7,262.5 449.2,261.1 449.7,259.4 450.2,257.6 450.7,255.7 451.2,253.8 451.7,252.0 452.2,250.6 452.7,249.6 453.2,249.3 453.7,249.7 454.2,250.8 454.7,252.3 455.2,254.2 455.7,256.2 456.2,258.2 456.7,260.2 457.2,261.9 457.7,263.5 458.2,264.8 458.7,265.9 459.2,266.9 459.7,267.6 460.2,268.3 460.7,268.7 461.2,269.1 461.7,269.5 462.2,269.7 462.7,269.9 463.2,270.1 463.7,270.2 464.2,270.4 464.7,270.5 465.2,270.5 465.7,270.6 466.2,270.5 466.7,270.5 467.2,270.4 467.7,270.2 468.2,270.0 468.7,269.8 469.2,269.4 469.7,269.1 470.2,268.8 470.7,268.4 471.2,268.1 471.7,267.9 472.2,267.7 472.7,267.7 473.2,267.8 473.7,267.9 474.2,268.2 474.7,268.6 475.2,269.0 475.7,269.5 476.2,270.0 476.7,270.4 477.2,270.9 477.7,271.2 478.2,271.6 478.7,271.9 479.2,272.1 479.7,272.3 480.2,272.4 480.7,272.5 481.2,272.6 481.7,272.7" fill="none" stroke="#ff850f" stroke-width="1.3" stroke-linejoin="round" stroke-linecap="round" />
<path d="M388.2,263.3 388.7,263.3 389.2,263.3 389.7,263.4 390.2,263.4 390.7,263.5 391.2,263.5 391.7,263.5 392.2,263.6 392.7,263.6 393.2,263.6 393.7,263.6 394.2,263.7 394.7,263.7 395.2,263.7 395.7,263.7 396.2,263.7 396.7,263.7 397.2,263.7 397.7,263.7 398.2,263.7 398.7,263.7 399.2,263.6 399.7,263.6 400.2,263.6 400.7,263.6 401.2,263.5 401.7,263.5 402.2,263.4 402.7,263.4 403.2,263.3 403.7,263.3 404.2,263.2 404.7,263.2 405.2,263.1 405.7,263.0 406.2,263.0 406.7,262.9 407.2,262.8 407.7,262.8 408.2,262.7 408.7,262.7 409.2,262.6 409.7,262.6 410.2,262.5 410.7,262.5 411.2,262.4 411.7,262.4 412.2,262.4 412.7,262.3 413.2,262.3 413.7,262.3 414.2,262.3 414.7,262.3 415.2,262.4 415.7,262.4 416.2,262.4 416.7,262.5 417.2,262.5 417.7,262.6 418.2,262.7 418.7,262.8 419.2,262.9 419.7,263.0 420.2,263.1 420.7,263.2 421.2,263.4 421.7,263.5 422.2,263.6 422.7,263.8 423.2,263.9 423.7,264.1 424.2,264.2 424.7,264.4 425.2,264.6 425.7,264.7 426.2,264.9 426.7,265.1 427.2,265.2 427.7,265.4 428.2,265.6 428.7,265.7 429.2,265.9 429.7,266.0 430.2,266.2 430.7,266.3 431.2,266.5 431.7,266.6 432.2,266.8 432.7,266.9 433.2,267.0 433.7,267.1 434.2,267.2 434.7,267.3 435.2,267.4 435.7,267.5 436.2,267.6 436.7,267.7 437.2,267.8 437.7,267.9 438.2,267.9 438.7,268.0 439.2,268.0 439.7,268.1 440.2,268.1 440.7,268.1 441.2,268.1 441.7,268.1 442.2,268.1 442.7,268.1 443.2,268.1 443.7,268.0 444.2,267.9 444.7,267.8 445.2,267.6 445.7,267.3 446.2,266.9 446.7,266.4 447.2,265.7 447.7,264.9 448.2,263.9 448.7,262.7 449.2,261.2 449.7,259.6 450.2,257.8 450.7,255.9 451.2,253.9 451.7,252.2 452.2,250.7 452.7,249.8 453.2,249.5 453.7,249.9 454.2,250.9 454.7,252.5 455.2,254.4 455.7,256.4 456.2,258.4 456.7,260.3 457.2,262.1 457.7,263.7 458.2,265.0 458.7,266.1 459.2,267.1 459.7,267.9 460.2,268.5 460.7,269.0 461.2,269.4 461.7,269.7 462.2,270.0 462.7,270.2 463.2,270.4 463.7,270.5 464.2,270.7 464.7,270.8 465.2,270.9 465.7,271.1 466.2,271.2 466.7,271.3 467.2,271.4 467.7,271.5" fill="none" stroke="#ff1fe0" stroke-width="1.3" stroke-linejoin="round" stroke-linecap="round" />
<path d="M478.2,272.7 478.7,272.7 479.2,272.7 479.7,272.8 480.2,272.8 480.7,272.8 481.2,272.9 481.7,272.9 482.2,272.9 482.7,273.0 483.2,273.0 483.7,273.0 484.2,273.1 484.7,273.1 485.2,273.1 485.7,273.1 486.2,273.1 486.7,273.2 487.2,273.2 487.7,273.2 488.2,273.2 488.7,273.2 489.2,273.2 489.7,273.2 490.2,273.2 490.7,273.2 491.2,273.1 491.7,273.1 492.2,273.1 492.7,273.1 493.2,273.0 493.7,273.0 494.2,272.9 494.7,272.8 495.2,272.8 495.7,272.7 496.2,272.5 496.7,272.4 497.2,272.3 497.7,272.1 498.2,271.9 498.7,271.7 499.2,271.4 499.7,271.1 500.2,270.8 500.7,270.4 501.2,269.9 501.7,269.3 502.2,268.6 502.7,267.8 503.2,266.9 503.7,265.7 504.2,264.3 504.7,262.7 505.2,260.6 505.7,258.2 506.2,255.3 506.7,251.9 507.2,247.9 507.7,243.4 508.2,238.5 508.7,233.4 509.2,228.8 509.7,225.2 510.2,223.3 510.7,223.5 511.2,225.9 511.7,229.9 512.2,234.8 512.7,240.0 513.2,244.9 513.7,249.4 514.2,253.4 514.7,256.9 515.2,259.8 515.7,262.2 516.2,264.3 516.7,266.0 517.2,267.5 517.7,268.7 518.2,269.7 518.7,270.6 519.2,271.4 519.7,272.0 520.2,272.6 520.7,273.1 521.2,273.5 521.7,273.9 522.2,274.3 522.7,274.6 523.2,274.9 523.7,275.2 524.2,275.5 524.7,275.7 525.2,275.9 525.7,276.1 526.2,276.3 526.7,276.5 527.2,276.6 527.7,276.8 528.2,277.0 528.7,277.1 529.2,277.2 529.7,277.4 530.2,277.5 530.7,277.6 531.2,277.7 531.7,277.8 532.2,277.9 532.7,278.1 533.2,278.2 533.7,278.3 534.2,278.3 534.7,278.4 535.2,278.5 535.7,278.6 536.2,278.7 536.7,278.8 537.2,278.9 537.7,279.0 538.2,279.0 538.7,279.1 539.2,279.2 539.7,279.3" fill="none" stroke="#1f1fff" stroke-width="1.4" stroke-linejoin="round" stroke-linecap="round" />
<rect x="387.6" y="175.4" width="152.89999999999998" height="113.4" fill="none" stroke="#3a3a3a" stroke-width="1.3"/>
<line x1="387.6" y1="219.2" x2="540.5" y2="219.2" stroke="#3a3a3a" stroke-width="1.3"/>
<path d="M394.80,289.40000000000003 v1.6 M404.40,289.40000000000003 v1.6 M414.00,289.40000000000003 v1.6 M423.60,289.40000000000003 v1.6 M433.20,289.40000000000003 v1.6 M442.80,289.40000000000003 v1.6 M452.40,289.40000000000003 v1.6 M462.00,289.40000000000003 v1.6 M471.60,289.40000000000003 v1.6 M481.20,289.40000000000003 v1.6 M490.80,289.40000000000003 v1.6 M500.40,289.40000000000003 v1.6 M510.00,289.40000000000003 v1.6 M519.60,289.40000000000003 v1.6 M529.20,289.40000000000003 v1.6 M538.80,289.40000000000003 v1.6" stroke="#3a3a3a" stroke-width="1.04" fill="none"/>
<text x="365.1" y="172.6" font-size="13" text-anchor="start" font-weight="bold" stroke="#111" stroke-width="0.35" >(e)</text>
<text x="394.8" y="298.9" font-size="7.2" text-anchor="middle" font-weight="bold" stroke="#111" stroke-width="0.25" >810</text>
<text x="414.0" y="298.9" font-size="7.2" text-anchor="middle" font-weight="bold" stroke="#111" stroke-width="0.25" >805</text>
<text x="433.2" y="298.9" font-size="7.2" text-anchor="middle" font-weight="bold" stroke="#111" stroke-width="0.25" >800</text>
<text x="452.4" y="298.9" font-size="7.2" text-anchor="middle" font-weight="bold" stroke="#111" stroke-width="0.25" >795</text>
<text x="471.6" y="298.9" font-size="7.2" text-anchor="middle" font-weight="bold" stroke="#111" stroke-width="0.25" >790</text>
<text x="490.8" y="298.9" font-size="7.2" text-anchor="middle" font-weight="bold" stroke="#111" stroke-width="0.25" >785</text>
<text x="510.0" y="298.9" font-size="7.2" text-anchor="middle" font-weight="bold" stroke="#111" stroke-width="0.25" >780</text>
<text x="529.2" y="298.9" font-size="7.2" text-anchor="middle" font-weight="bold" stroke="#111" stroke-width="0.25" >775</text>
<text x="463" y="308.9" font-size="7.4" text-anchor="middle" font-weight="bold" stroke="#111" stroke-width="0.2" >Binding energy (eV)</text>
<text x="0" y="0" font-size="7.5" font-weight="bold" text-anchor="middle" stroke="#111" stroke-width="0.2" transform="translate(375.5,230.5) rotate(-90)" dominant-baseline="central">Intensity (a.u.)</text>
<text x="389.9" y="182.7" font-size="5.3" text-anchor="start" font-weight="bold" stroke="#111" stroke-width="0.18" >1% LiF@NCM</text>
<text x="389.9" y="189.9" font-size="5.3" text-anchor="start" font-weight="bold" stroke="#111" stroke-width="0.18" >Co 2p</text>
<text x="442.6" y="190.6" font-size="5.9" text-anchor="start" font-weight="bold" stroke="#111" stroke-width="0.16" >Co 2p<tspan font-size="3.66" dy="1.5">1/2</tspan></text>
<text x="515" y="187.1" font-size="5.9" text-anchor="start" font-weight="bold" stroke="#111" stroke-width="0.16" >Co 2p<tspan font-size="3.66" dy="1.5">3/2</tspan></text>
<text x="388.9" y="227.3" font-size="5.3" text-anchor="start" font-weight="bold" stroke="#111" stroke-width="0.18" >0% LiF@NCM</text>
<text x="388.9" y="233.6" font-size="5.3" text-anchor="start" font-weight="bold" stroke="#111" stroke-width="0.18" >Co 2p</text>
<text x="443" y="244.8" font-size="5.9" text-anchor="start" font-weight="bold" stroke="#111" stroke-width="0.16" >Co 2p<tspan font-size="3.66" dy="1.5">1/2</tspan></text>
<text x="514" y="232.7" font-size="5.9" text-anchor="start" font-weight="bold" stroke="#111" stroke-width="0.16" >Co 2p<tspan font-size="3.66" dy="1.5">3/2</tspan></text>
</g></svg>
</body></html>
